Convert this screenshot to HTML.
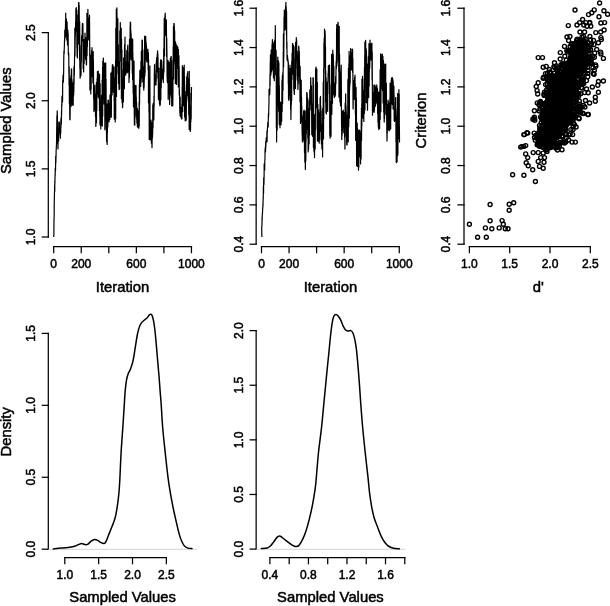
<!DOCTYPE html>
<html><head><meta charset="utf-8"><title>MCMC samples</title>
<style>
html,body{margin:0;padding:0;background:#fff;}
svg{display:block;}
text{font-family:"Liberation Sans", Arial, Helvetica, sans-serif;fill:#000;stroke:#000;stroke-width:0.5px;}
.tk{font-size:12px;}
.tt{font-size:14.8px;}
</style></head><body>
<svg width="610" height="606" viewBox="0 0 610 606">
<rect width="610" height="606" fill="#fff"/>
<g stroke="#000" stroke-width="1.25" fill="none" stroke-linecap="square">
<path d="M53.70 246.60H191.45"/>
<path d="M53.70 246.60v6.0"/>
<path d="M81.25 246.60v6.0"/>
<path d="M108.80 246.60v6.0"/>
<path d="M136.35 246.60v6.0"/>
<path d="M163.90 246.60v6.0"/>
<path d="M191.45 246.60v6.0"/>
</g>
<text x="53.70" y="267.80" text-anchor="middle" class="tk">0</text>
<text x="81.25" y="267.80" text-anchor="middle" class="tk">200</text>
<text x="136.35" y="267.80" text-anchor="middle" class="tk">600</text>
<text x="191.45" y="267.80" text-anchor="middle" class="tk">1000</text>
<g stroke="#000" stroke-width="1.25" fill="none" stroke-linecap="square">
<path d="M48.30 237.00V32.61"/>
<path d="M48.30 237.00h-6.0"/>
<path d="M48.30 168.87h-6.0"/>
<path d="M48.30 100.74h-6.0"/>
<path d="M48.30 32.61h-6.0"/>
</g>
<text transform="translate(34.70 237.00) rotate(-90)" text-anchor="middle" class="tk">1.0</text>
<text transform="translate(34.70 168.87) rotate(-90)" text-anchor="middle" class="tk">1.5</text>
<text transform="translate(34.70 100.74) rotate(-90)" text-anchor="middle" class="tk">2.0</text>
<text transform="translate(34.70 32.61) rotate(-90)" text-anchor="middle" class="tk">2.5</text>
<text x="122.60" y="291.60" text-anchor="middle" class="tt">Iteration</text>
<text transform="translate(10.70 120.70) rotate(-90)" text-anchor="middle" class="tt">Sampled Values</text>
<path d="M53.70 237.00 53.78 235.87 53.85 234.89 53.92 229.70 54.00 220.00 54.08 217.48 54.16 217.47 54.24 202.71 54.32 200.56 54.40 196.00 54.49 191.32 54.57 191.58 54.66 184.66 54.74 191.45 54.83 180.81 54.91 183.44 55.00 178.00 55.09 174.11 55.17 175.48 55.26 168.12 55.34 168.93 55.43 168.17 55.51 171.07 55.60 165.00 55.69 156.15 55.77 157.81 55.86 162.64 55.95 157.98 56.04 157.76 56.12 151.12 56.21 149.22 56.30 148.00 56.38 145.52 56.47 144.64 56.55 141.97 56.63 134.73 56.72 126.70 56.80 125.00 56.88 115.82 56.96 119.37 57.04 122.33 57.12 122.24 57.20 110.80 57.28 112.84 57.36 114.93 57.44 126.30 57.52 127.48 57.60 130.00 57.68 143.81 57.76 136.81 57.84 135.38 57.92 145.63 58.00 149.00 58.08 140.92 58.16 142.08 58.24 139.72 58.32 129.67 58.40 135.96 58.48 128.99 58.56 135.19 58.64 141.10 58.72 134.53 58.80 122.00 58.88 124.68 58.96 123.11 59.04 122.08 59.12 122.23 59.20 123.88 59.28 122.21 59.36 123.25 59.44 123.45 59.52 126.92 59.60 128.00 59.68 131.76 59.76 128.97 59.84 132.64 59.92 132.26 60.00 133.00 60.08 132.18 60.16 135.29 60.24 133.24 60.32 134.80 60.40 138.20 60.49 128.94 60.57 132.49 60.66 132.00 60.74 133.34 60.83 119.88 60.91 128.13 61.00 118.00 61.08 119.00 61.16 119.97 61.24 121.58 61.32 121.64 61.40 124.00 61.49 111.48 61.57 115.30 61.66 110.39 61.74 103.99 61.83 106.13 61.91 99.72 62.00 96.00 62.08 100.08 62.17 99.98 62.25 97.29 62.33 101.24 62.42 97.01 62.50 102.00 62.58 98.91 62.67 85.07 62.75 80.29 62.83 83.03 62.92 81.93 63.00 75.00 63.08 75.04 63.16 80.43 63.24 78.60 63.32 81.03 63.40 82.00 63.48 78.21 63.56 74.75 63.64 73.32 63.72 62.88 63.80 58.00 63.89 52.91 63.97 50.73 64.06 52.42 64.14 53.61 64.23 50.08 64.31 46.95 64.40 46.00 64.48 41.84 64.56 39.04 64.64 41.00 64.72 36.66 64.80 30.00 64.88 31.21 64.96 34.64 65.04 32.79 65.12 36.14 65.20 38.00 65.28 33.54 65.37 27.62 65.45 31.04 65.53 20.98 65.62 22.87 65.70 13.20 65.78 33.59 65.86 25.20 65.94 18.74 66.02 31.89 66.10 36.00 66.17 35.38 66.25 35.31 66.33 28.42 66.40 19.00 66.48 21.68 66.56 27.35 66.64 23.57 66.72 27.93 66.80 40.00 66.88 34.72 66.95 27.99 67.02 29.43 67.10 22.00 67.18 28.98 67.26 30.24 67.34 34.22 67.42 41.39 67.50 45.00 67.58 38.58 67.66 32.30 67.74 44.75 67.82 33.20 67.90 30.00 67.98 37.42 68.06 33.12 68.14 32.83 68.22 42.07 68.30 52.00 68.38 55.01 68.47 53.31 68.55 52.36 68.63 53.17 68.72 52.97 68.80 60.00 68.88 73.51 68.97 68.38 69.05 84.93 69.13 81.76 69.22 66.93 69.30 89.70 69.38 103.72 69.47 98.37 69.55 89.20 69.63 80.82 69.72 112.31 69.80 119.60 69.88 104.63 69.96 111.38 70.05 119.80 70.13 114.78 70.21 105.56 70.29 89.48 70.37 103.84 70.45 78.61 70.54 95.09 70.62 99.54 70.70 103.96 70.78 86.78 70.86 75.69 70.95 93.29 71.03 81.42 71.11 106.29 71.19 88.78 71.27 74.85 71.35 69.31 71.44 83.96 71.52 74.81 71.60 68.80 71.68 76.94 71.77 84.48 71.85 83.63 71.94 79.50 72.02 88.61 72.11 88.74 72.19 99.32 72.27 81.79 72.36 105.18 72.44 88.22 72.53 105.24 72.61 87.46 72.69 86.63 72.78 101.08 72.86 94.95 72.95 91.63 73.03 94.84 73.12 98.81 73.20 105.20 73.28 95.69 73.36 83.41 73.44 96.78 73.53 85.96 73.61 89.31 73.69 94.84 73.77 79.38 73.85 91.72 73.93 69.04 74.01 66.66 74.09 83.89 74.17 70.47 74.26 66.07 74.34 74.90 74.42 68.17 74.50 60.00 74.58 56.59 74.67 53.43 74.75 49.20 74.83 28.20 74.92 55.98 75.00 52.23 75.08 43.96 75.17 38.68 75.25 32.05 75.33 36.60 75.42 29.80 75.50 28.00 75.58 23.71 75.66 21.48 75.74 23.80 75.82 14.78 75.90 8.54 75.98 26.89 76.06 15.53 76.14 10.41 76.22 8.85 76.30 7.50 76.38 11.24 76.47 22.12 76.55 18.46 76.64 31.69 76.72 27.56 76.81 14.78 76.89 48.08 76.98 25.86 77.06 53.35 77.15 56.64 77.23 48.76 77.32 36.83 77.40 58.00 77.48 34.03 77.57 50.56 77.65 37.62 77.73 41.97 77.82 28.38 77.90 22.33 77.98 24.30 78.07 23.89 78.15 10.27 78.23 20.38 78.32 31.21 78.40 34.35 78.48 44.02 78.57 2.72 78.65 9.84 78.73 17.67 78.82 19.17 78.90 2.30 78.99 23.19 79.07 30.13 79.16 5.29 79.24 14.56 79.33 22.03 79.41 38.03 79.50 41.61 79.59 60.07 79.67 21.84 79.76 36.79 79.84 65.86 79.93 69.08 80.01 64.14 80.10 78.20 80.18 72.86 80.26 70.63 80.35 74.34 80.43 76.16 80.51 67.07 80.59 62.97 80.68 71.17 80.76 69.14 80.84 76.08 80.92 68.88 81.01 74.87 81.09 64.03 81.17 45.64 81.25 62.50 81.34 61.17 81.42 48.64 81.50 45.00 81.58 35.90 81.66 38.75 81.75 37.99 81.83 38.43 81.91 39.99 81.99 40.77 82.08 34.04 82.16 36.84 82.24 28.74 82.32 26.73 82.41 24.12 82.49 23.32 82.57 28.94 82.65 24.34 82.74 24.08 82.82 26.89 82.90 23.60 82.99 33.07 83.08 53.18 83.16 68.87 83.25 51.88 83.34 60.66 83.42 59.00 83.51 48.76 83.60 72.00 83.68 69.26 83.76 62.29 83.85 60.43 83.93 39.57 84.01 46.02 84.09 59.10 84.18 63.29 84.26 42.59 84.34 52.33 84.42 48.31 84.51 42.56 84.59 44.61 84.67 50.57 84.75 50.22 84.84 46.73 84.92 41.03 85.00 33.00 85.08 40.23 85.16 49.09 85.25 55.11 85.33 38.15 85.41 45.00 85.49 57.46 85.58 59.12 85.66 46.42 85.74 37.59 85.82 44.00 85.91 46.68 85.99 50.00 86.07 60.02 86.15 54.27 86.24 60.75 86.32 63.76 86.40 65.00 86.48 64.86 86.57 61.51 86.65 48.53 86.73 44.91 86.82 55.90 86.90 13.28 86.98 31.79 87.07 55.60 87.15 25.14 87.23 37.97 87.32 21.50 87.40 46.84 87.48 31.98 87.57 18.81 87.65 21.23 87.73 16.82 87.82 15.98 87.90 9.40 87.98 24.24 88.06 20.45 88.14 20.57 88.22 30.14 88.30 17.71 88.38 27.49 88.46 20.49 88.54 32.86 88.62 30.00 88.70 40.00 88.78 29.58 88.86 36.41 88.94 33.87 89.02 28.14 89.10 21.25 89.18 35.88 89.26 31.61 89.34 26.60 89.42 24.96 89.50 15.00 89.58 28.40 89.66 37.92 89.74 56.99 89.83 46.90 89.91 89.75 89.99 90.04 90.07 82.57 90.15 64.43 90.23 69.74 90.31 87.36 90.39 55.24 90.47 72.64 90.56 86.79 90.64 72.53 90.72 89.10 90.80 93.90 90.89 72.88 90.97 81.59 91.06 85.73 91.14 89.11 91.23 66.96 91.31 53.80 91.40 75.97 91.49 69.91 91.57 63.35 91.66 50.33 91.74 55.51 91.83 61.88 91.91 60.31 92.00 47.70 92.08 52.18 92.17 57.63 92.25 65.10 92.33 54.72 92.41 68.08 92.50 76.89 92.58 70.18 92.66 72.29 92.74 76.97 92.83 55.33 92.91 82.97 92.99 69.57 93.07 73.01 93.16 70.41 93.24 51.55 93.32 79.58 93.40 60.06 93.49 72.28 93.57 92.73 93.65 97.18 93.73 99.06 93.82 91.79 93.90 111.40 93.98 98.92 94.06 104.04 94.15 103.78 94.23 109.94 94.31 101.95 94.39 92.54 94.47 91.34 94.55 92.39 94.64 88.60 94.72 92.59 94.80 85.00 94.88 90.82 94.97 102.02 95.05 107.60 95.13 99.83 95.22 95.69 95.30 93.66 95.38 94.91 95.47 116.51 95.55 106.45 95.63 100.00 95.72 112.41 95.80 126.50 95.88 125.96 95.97 108.09 96.05 102.82 96.13 109.08 96.22 110.60 96.30 105.27 96.38 82.59 96.47 122.81 96.55 96.10 96.63 101.60 96.72 109.06 96.80 110.82 96.88 86.97 96.97 91.27 97.05 78.73 97.13 93.69 97.22 87.13 97.30 78.63 97.38 76.55 97.47 71.49 97.55 93.00 97.63 87.71 97.72 82.97 97.80 84.08 97.88 82.12 97.97 76.61 98.05 73.35 98.13 74.23 98.22 97.02 98.30 71.00 98.38 76.75 98.47 89.89 98.55 89.35 98.63 91.59 98.72 78.19 98.80 98.05 98.88 76.30 98.97 90.41 99.05 88.90 99.13 91.34 99.22 87.68 99.30 90.92 99.38 94.37 99.47 110.56 99.55 74.12 99.63 85.57 99.72 88.20 99.80 116.45 99.88 91.51 99.97 124.02 100.05 84.99 100.13 83.71 100.22 125.33 100.30 114.73 100.38 111.20 100.47 102.15 100.55 117.15 100.63 122.72 100.72 119.33 100.80 129.00 100.88 125.09 100.97 119.59 101.05 105.04 101.13 117.47 101.22 121.48 101.30 118.16 101.38 104.42 101.47 95.42 101.55 116.35 101.63 97.98 101.72 103.17 101.80 99.19 101.88 101.52 101.97 94.37 102.05 125.23 102.13 80.21 102.22 96.91 102.30 126.12 102.38 112.74 102.47 74.84 102.55 75.11 102.63 67.12 102.72 115.88 102.80 61.22 102.88 71.22 102.97 69.84 103.05 65.85 103.13 73.05 103.22 90.04 103.30 58.30 103.38 58.14 103.47 97.88 103.55 66.44 103.63 78.33 103.71 68.86 103.80 99.81 103.88 69.22 103.96 63.78 104.04 104.06 104.13 88.50 104.21 77.70 104.29 100.06 104.37 76.01 104.46 85.20 104.54 62.98 104.62 85.32 104.70 71.96 104.79 97.67 104.87 129.78 104.95 79.58 105.03 77.44 105.12 90.40 105.20 87.60 105.28 88.62 105.37 78.33 105.45 105.28 105.53 112.04 105.61 114.92 105.70 62.78 105.78 74.35 105.86 120.33 105.94 93.38 106.03 79.18 106.11 89.22 106.19 125.43 106.27 128.65 106.36 128.63 106.44 128.91 106.52 135.53 106.60 141.53 106.69 139.97 106.77 125.96 106.85 124.54 106.93 131.85 107.02 103.98 107.10 144.50 107.18 144.44 107.26 130.08 107.35 126.94 107.43 132.52 107.51 112.23 107.59 108.99 107.67 116.89 107.75 107.54 107.84 126.89 107.92 111.92 108.00 100.00 108.08 101.59 108.17 101.48 108.25 110.78 108.33 115.50 108.42 104.36 108.50 100.42 108.58 104.76 108.67 117.73 108.75 115.81 108.83 111.90 108.92 118.95 109.00 122.00 109.08 121.53 109.17 117.21 109.25 118.22 109.34 107.48 109.42 106.33 109.50 112.10 109.59 115.83 109.67 103.95 109.76 104.45 109.84 119.52 109.92 97.84 110.01 94.93 110.09 117.83 110.18 97.48 110.26 111.85 110.35 94.83 110.43 113.13 110.51 107.95 110.60 112.55 110.68 93.79 110.77 98.13 110.85 73.01 110.93 113.82 111.02 103.01 111.10 91.59 111.19 96.86 111.27 100.22 111.35 117.23 111.44 84.88 111.52 82.17 111.61 86.31 111.69 89.59 111.78 71.73 111.86 92.80 111.94 85.43 112.03 75.45 112.11 94.93 112.20 67.77 112.28 86.70 112.36 64.76 112.45 81.40 112.53 90.29 112.62 77.33 112.70 64.60 112.78 68.79 112.87 65.42 112.95 81.11 113.03 73.76 113.12 77.32 113.20 78.68 113.28 73.08 113.37 92.24 113.45 76.00 113.53 76.40 113.62 89.38 113.70 88.63 113.78 86.60 113.87 77.80 113.95 83.82 114.03 66.89 114.12 100.53 114.20 91.07 114.28 118.16 114.37 119.00 114.45 119.20 114.53 93.10 114.62 77.52 114.70 89.98 114.78 112.94 114.87 98.92 114.95 91.08 115.03 113.90 115.12 111.23 115.20 122.00 115.28 89.84 115.37 101.79 115.45 90.51 115.54 65.85 115.62 60.21 115.71 118.74 115.80 28.26 115.88 81.61 115.97 53.48 116.05 58.12 116.14 27.47 116.22 76.92 116.31 9.08 116.39 31.85 116.48 96.52 116.56 38.38 116.65 64.70 116.73 25.69 116.82 55.39 116.90 7.80 116.98 14.71 117.07 20.41 117.15 31.37 117.24 52.47 117.32 66.10 117.40 47.06 117.49 47.80 117.57 52.77 117.66 66.25 117.74 62.76 117.82 18.61 117.91 56.98 117.99 53.02 118.08 73.73 118.16 69.63 118.24 55.47 118.33 44.68 118.41 78.34 118.50 83.46 118.58 64.12 118.66 72.76 118.75 61.49 118.83 83.05 118.92 64.11 119.00 89.50 119.08 89.63 119.16 80.77 119.24 69.40 119.33 84.97 119.41 74.73 119.49 74.20 119.57 88.78 119.65 78.92 119.73 69.46 119.81 30.90 119.89 44.71 119.97 46.13 120.06 32.49 120.14 44.80 120.22 44.92 120.30 22.70 120.38 52.21 120.47 44.60 120.55 46.01 120.64 38.12 120.72 49.80 120.81 52.43 120.89 49.74 120.98 46.04 121.06 61.26 121.15 41.94 121.23 28.12 121.32 56.53 121.40 98.63 121.48 98.63 121.57 39.30 121.65 74.80 121.74 83.21 121.82 64.37 121.91 49.51 121.99 67.66 122.08 102.82 122.16 71.83 122.25 69.70 122.33 93.51 122.42 90.16 122.50 107.70 122.58 101.39 122.67 107.15 122.75 80.53 122.83 89.87 122.92 91.75 123.00 90.69 123.08 88.01 123.17 79.99 123.25 94.00 123.33 78.58 123.42 101.87 123.50 85.95 123.58 73.33 123.67 57.89 123.75 60.37 123.83 78.93 123.92 83.35 124.00 61.05 124.08 84.52 124.17 75.33 124.25 88.96 124.33 88.62 124.42 86.94 124.50 52.59 124.58 44.55 124.67 52.46 124.75 58.72 124.83 51.54 124.92 46.68 125.00 37.00 125.09 49.51 125.17 53.99 125.26 55.55 125.34 65.06 125.43 69.78 125.51 69.95 125.60 75.00 125.68 75.23 125.77 65.26 125.85 70.21 125.94 68.32 126.02 69.36 126.11 68.70 126.19 63.67 126.28 67.90 126.36 72.83 126.45 62.11 126.53 65.12 126.62 62.48 126.70 66.39 126.78 50.56 126.87 66.89 126.95 65.02 127.04 71.96 127.12 72.81 127.21 62.07 127.29 63.12 127.38 61.86 127.46 58.66 127.55 47.51 127.63 59.19 127.72 54.37 127.80 45.00 127.89 50.41 127.97 56.57 128.06 52.28 128.14 71.86 128.23 66.11 128.31 63.41 128.40 70.33 128.49 62.55 128.57 66.08 128.66 64.76 128.74 66.16 128.83 68.72 128.91 74.32 129.00 82.60 129.08 77.23 129.16 64.98 129.24 77.87 129.32 69.97 129.41 76.73 129.49 39.38 129.57 53.73 129.65 69.77 129.73 53.03 129.81 55.15 129.89 39.34 129.98 41.92 130.06 44.44 130.14 27.70 130.22 25.46 130.30 22.00 130.38 31.90 130.47 38.78 130.55 38.76 130.63 22.38 130.72 45.57 130.80 57.09 130.88 30.77 130.97 59.20 131.05 36.71 131.13 33.75 131.22 53.87 131.30 60.00 131.38 53.54 131.46 58.06 131.55 56.71 131.63 57.41 131.71 53.80 131.79 43.93 131.87 52.28 131.95 38.63 132.04 41.68 132.12 43.53 132.20 38.90 132.28 73.22 132.37 57.14 132.45 53.96 132.54 50.71 132.62 79.65 132.70 39.28 132.79 72.80 132.87 52.83 132.95 67.78 133.04 58.82 133.12 88.32 133.21 93.59 133.29 81.28 133.37 61.77 133.46 106.79 133.54 75.54 133.63 99.94 133.71 74.19 133.79 100.75 133.88 103.44 133.96 93.54 134.05 61.17 134.13 105.04 134.21 91.47 134.30 114.41 134.38 124.80 134.46 113.17 134.55 99.51 134.63 99.60 134.72 85.13 134.80 125.20 134.88 114.57 134.96 112.68 135.05 118.10 135.13 95.52 135.21 95.51 135.29 103.04 135.37 95.96 135.45 95.40 135.54 98.25 135.62 101.98 135.70 85.70 135.78 91.85 135.87 93.05 135.95 96.81 136.04 85.61 136.12 100.58 136.20 101.23 136.29 96.91 136.37 116.02 136.45 101.45 136.54 103.46 136.62 103.83 136.71 119.25 136.79 114.86 136.87 123.00 136.96 115.58 137.04 113.86 137.12 121.34 137.21 123.63 137.29 115.82 137.38 126.87 137.46 108.58 137.54 122.53 137.63 127.12 137.71 127.29 137.79 110.77 137.88 114.14 137.96 119.60 138.05 110.68 138.13 117.57 138.21 114.48 138.30 124.43 138.38 126.80 138.46 121.56 138.55 121.39 138.63 122.35 138.72 128.11 138.80 128.40 138.89 126.35 138.97 120.31 139.06 116.99 139.14 102.09 139.23 125.94 139.31 109.88 139.40 84.78 139.49 105.16 139.57 103.19 139.66 79.39 139.74 93.94 139.83 71.22 139.91 77.38 140.00 70.00 140.09 71.83 140.18 73.13 140.26 77.53 140.35 72.03 140.44 78.00 140.52 83.85 140.61 84.06 140.70 86.30 140.78 79.44 140.86 77.36 140.94 61.58 141.02 70.86 141.11 82.82 141.19 75.69 141.27 76.25 141.35 51.17 141.43 55.91 141.51 78.01 141.59 53.11 141.68 53.77 141.76 56.74 141.84 52.50 141.92 57.32 142.00 40.20 142.08 40.46 142.16 42.83 142.25 40.15 142.33 47.88 142.41 40.35 142.49 57.81 142.57 56.53 142.65 52.84 142.74 81.79 142.82 49.60 142.90 67.44 142.98 63.37 143.06 67.50 143.15 71.48 143.23 78.01 143.31 69.90 143.39 81.50 143.47 87.38 143.55 66.80 143.64 70.82 143.72 86.16 143.80 90.10 143.88 82.78 143.97 83.22 144.05 83.41 144.13 86.93 144.21 80.98 144.30 71.00 144.38 78.45 144.46 75.01 144.54 55.78 144.63 38.48 144.71 36.10 144.79 67.08 144.87 76.00 144.96 64.33 145.04 47.90 145.12 72.68 145.20 50.59 145.29 46.03 145.37 60.25 145.45 58.63 145.53 46.89 145.62 52.96 145.70 36.40 145.78 40.54 145.87 40.87 145.95 53.53 146.04 59.00 146.12 47.85 146.21 42.59 146.29 56.27 146.38 58.51 146.46 45.90 146.55 58.73 146.63 55.45 146.72 54.46 146.80 62.00 146.88 58.87 146.97 57.45 147.05 57.16 147.14 59.31 147.22 60.90 147.31 61.42 147.39 50.99 147.48 54.64 147.56 52.78 147.65 49.69 147.73 51.24 147.82 54.61 147.90 49.00 147.98 56.47 148.07 53.88 148.15 68.84 148.23 70.37 148.32 54.54 148.40 52.91 148.48 102.85 148.57 59.38 148.65 87.42 148.73 89.06 148.82 81.28 148.90 78.68 148.98 112.28 149.07 82.09 149.15 111.77 149.23 139.53 149.32 91.52 149.40 129.37 149.48 130.49 149.57 102.71 149.65 128.11 149.73 108.59 149.82 119.58 149.90 65.85 149.98 109.31 150.07 135.54 150.15 132.50 150.23 131.86 150.32 123.14 150.40 140.00 150.49 137.81 150.57 132.31 150.66 121.59 150.74 131.47 150.83 126.27 150.91 126.04 151.00 120.00 151.08 125.02 151.17 122.06 151.25 137.99 151.33 135.46 151.42 143.15 151.50 141.51 151.58 139.61 151.67 134.33 151.75 142.73 151.83 143.28 151.92 142.56 152.00 147.60 152.09 141.99 152.17 135.54 152.26 138.80 152.34 122.15 152.43 134.72 152.51 137.25 152.60 133.76 152.69 133.99 152.77 104.97 152.86 123.29 152.94 122.20 153.03 127.69 153.11 110.11 153.20 103.30 153.29 104.32 153.37 108.50 153.46 106.03 153.54 108.37 153.63 105.94 153.71 118.91 153.80 120.00 153.89 114.81 153.98 96.40 154.06 107.73 154.15 104.12 154.24 88.36 154.32 73.25 154.41 70.91 154.50 64.60 154.58 73.90 154.67 70.15 154.75 78.94 154.83 80.14 154.92 79.01 155.00 76.02 155.08 79.38 155.17 84.97 155.25 79.23 155.33 83.61 155.42 79.96 155.50 81.87 155.58 79.16 155.67 79.29 155.75 74.83 155.83 79.73 155.92 81.82 156.00 85.00 156.08 75.15 156.17 63.23 156.25 81.03 156.34 62.55 156.42 60.78 156.51 71.59 156.59 67.44 156.67 57.64 156.76 62.59 156.84 66.15 156.93 57.20 157.01 63.31 157.09 64.77 157.18 60.98 157.26 53.93 157.35 54.69 157.43 71.93 157.52 52.12 157.60 50.80 157.68 52.91 157.76 72.07 157.85 54.05 157.93 78.16 158.01 57.82 158.09 73.75 158.18 70.47 158.26 73.00 158.34 87.33 158.42 99.70 158.50 73.26 158.59 67.85 158.67 74.37 158.75 97.11 158.83 84.18 158.91 90.50 159.00 68.09 159.08 85.54 159.16 96.03 159.24 84.47 159.32 98.63 159.41 83.18 159.49 103.99 159.57 98.97 159.65 87.70 159.74 86.03 159.82 101.18 159.90 105.80 159.98 98.18 160.07 103.38 160.15 89.51 160.24 93.96 160.32 104.41 160.41 62.75 160.49 70.59 160.57 74.34 160.66 59.96 160.74 73.07 160.83 99.99 160.91 69.38 160.99 88.45 161.08 67.56 161.16 88.07 161.25 86.86 161.33 67.64 161.42 81.65 161.50 60.00 161.58 67.83 161.66 64.88 161.75 61.26 161.83 63.54 161.91 65.10 161.99 67.69 162.07 74.84 162.15 69.61 162.24 75.59 162.32 78.84 162.40 70.65 162.48 69.00 162.56 73.98 162.65 69.84 162.73 76.70 162.81 70.22 162.89 74.39 162.97 77.66 163.05 78.36 163.14 75.62 163.22 80.28 163.30 82.60 163.38 77.20 163.47 75.22 163.55 75.00 163.63 67.51 163.71 48.96 163.80 64.11 163.88 56.58 163.96 71.95 164.04 37.50 164.13 44.19 164.21 18.33 164.29 43.07 164.37 48.53 164.46 48.04 164.54 55.66 164.62 26.78 164.70 36.77 164.79 22.17 164.87 30.70 164.95 15.62 165.03 30.72 165.12 27.16 165.20 13.20 165.28 16.41 165.36 27.50 165.45 24.98 165.53 20.19 165.61 21.11 165.69 33.72 165.77 35.18 165.85 34.72 165.94 26.64 166.02 24.88 166.10 32.80 166.18 28.51 166.26 30.33 166.35 19.73 166.43 28.99 166.51 37.19 166.59 41.50 166.67 56.44 166.75 38.27 166.84 48.61 166.92 50.68 167.00 60.00 167.08 77.01 167.17 69.09 167.25 81.77 167.34 62.30 167.42 66.54 167.50 82.64 167.59 71.05 167.67 82.43 167.75 67.91 167.84 74.92 167.92 80.61 168.01 60.32 168.09 71.05 168.17 99.31 168.26 76.85 168.34 88.14 168.43 92.96 168.51 80.54 168.59 91.89 168.68 77.81 168.76 82.63 168.85 84.49 168.93 74.29 169.01 82.34 169.10 62.00 169.18 79.28 169.26 71.90 169.35 87.82 169.43 92.67 169.52 98.62 169.60 104.50 169.68 102.90 169.77 95.47 169.85 95.65 169.94 90.78 170.02 79.80 170.11 66.28 170.19 66.34 170.27 77.96 170.36 58.29 170.44 83.94 170.53 74.65 170.61 76.05 170.69 94.60 170.78 74.30 170.86 76.40 170.95 56.70 171.03 65.50 171.12 77.83 171.20 56.50 171.28 65.86 171.37 97.55 171.45 67.19 171.53 86.70 171.62 60.66 171.70 105.80 171.78 102.35 171.87 77.99 171.95 94.65 172.03 89.99 172.12 77.44 172.20 80.99 172.28 94.69 172.37 103.29 172.45 104.37 172.53 105.93 172.62 92.81 172.70 98.54 172.78 105.97 172.87 97.01 172.95 91.77 173.03 59.38 173.12 67.17 173.20 46.59 173.28 78.74 173.37 72.40 173.45 26.30 173.53 78.94 173.62 30.97 173.70 48.75 173.78 48.30 173.87 23.67 173.95 29.96 174.03 58.32 174.12 26.94 174.20 23.60 174.28 49.52 174.36 26.35 174.45 39.92 174.53 36.29 174.61 56.47 174.69 30.75 174.77 61.22 174.86 60.57 174.94 64.46 175.02 48.90 175.10 62.87 175.19 65.96 175.27 78.45 175.35 83.57 175.43 75.36 175.51 41.73 175.60 78.41 175.68 80.34 175.76 72.71 175.84 67.10 175.93 47.47 176.01 57.98 176.09 43.95 176.17 67.20 176.25 75.09 176.34 75.85 176.42 79.43 176.50 84.50 176.59 81.56 176.67 76.30 176.76 67.80 176.84 49.10 176.93 47.90 177.01 56.96 177.10 45.80 177.18 48.35 177.27 66.55 177.35 47.12 177.43 59.65 177.51 47.31 177.60 48.64 177.68 66.15 177.76 51.08 177.84 47.36 177.93 60.37 178.01 68.66 178.09 69.00 178.18 61.01 178.26 78.15 178.34 87.01 178.42 49.27 178.51 57.95 178.59 77.19 178.67 81.56 178.76 60.47 178.84 69.31 178.92 55.61 179.00 77.98 179.09 86.78 179.17 66.79 179.25 95.00 179.33 89.78 179.42 90.48 179.50 95.00 179.58 95.33 179.67 101.36 179.75 109.08 179.83 112.30 179.92 113.12 180.00 103.15 180.08 115.78 180.17 97.11 180.25 108.11 180.33 114.09 180.42 110.73 180.50 115.61 180.58 115.69 180.67 116.56 180.75 113.57 180.83 111.62 180.92 107.64 181.00 110.27 181.08 113.23 181.17 117.88 181.25 110.59 181.33 107.42 181.42 109.58 181.50 119.00 181.58 113.31 181.67 111.97 181.75 115.33 181.84 104.26 181.92 118.80 182.01 107.15 182.09 97.96 182.18 87.35 182.26 103.93 182.34 65.70 182.43 109.78 182.51 102.16 182.60 97.99 182.68 111.73 182.77 94.71 182.85 73.28 182.93 101.93 183.02 92.84 183.10 67.62 183.19 70.45 183.27 83.64 183.36 105.87 183.44 95.63 183.52 85.15 183.61 69.72 183.69 77.06 183.78 85.35 183.86 76.33 183.95 82.97 184.03 71.96 184.12 68.20 184.20 65.20 184.28 69.13 184.37 95.07 184.45 76.28 184.53 82.18 184.62 117.03 184.70 106.44 184.78 96.16 184.87 106.69 184.95 116.45 185.03 105.55 185.12 115.97 185.20 120.90 185.28 116.07 185.37 117.77 185.45 98.64 185.54 97.18 185.62 115.14 185.70 111.71 185.79 109.21 185.87 91.41 185.95 108.67 186.04 112.47 186.12 104.28 186.21 120.16 186.29 116.29 186.37 104.61 186.46 84.35 186.54 97.28 186.63 101.88 186.71 77.04 186.79 98.45 186.88 88.01 186.96 77.59 187.05 75.75 187.13 77.92 187.21 93.12 187.30 83.74 187.38 73.34 187.46 73.25 187.55 79.34 187.63 93.94 187.72 76.19 187.80 71.50 187.88 95.56 187.97 88.10 188.05 80.27 188.13 83.51 188.22 78.33 188.30 88.47 188.38 92.23 188.47 99.05 188.55 100.89 188.63 86.16 188.72 114.74 188.80 113.07 188.88 110.86 188.97 100.10 189.05 95.33 189.13 116.81 189.22 129.42 189.30 71.40 189.38 106.28 189.47 104.37 189.55 83.80 189.63 129.71 189.72 123.15 189.80 108.99 189.88 125.88 189.97 113.56 190.05 109.26 190.13 119.66 190.22 127.15 190.30 131.50 190.39 130.92 190.47 113.27 190.56 129.81 190.64 109.40 190.73 105.83 190.81 122.16 190.90 109.68 190.99 93.05 191.07 105.89 191.16 118.97 191.24 102.38 191.33 100.05 191.41 91.86 191.50 87.00" fill="none" stroke="#000" stroke-width="1.2" stroke-linejoin="round"/>
<g stroke="#000" stroke-width="1.25" fill="none" stroke-linecap="square">
<path d="M261.50 246.60H399.25"/>
<path d="M261.50 246.60v6.0"/>
<path d="M289.05 246.60v6.0"/>
<path d="M316.60 246.60v6.0"/>
<path d="M344.15 246.60v6.0"/>
<path d="M371.70 246.60v6.0"/>
<path d="M399.25 246.60v6.0"/>
</g>
<text x="261.50" y="267.80" text-anchor="middle" class="tk">0</text>
<text x="289.05" y="267.80" text-anchor="middle" class="tk">200</text>
<text x="344.15" y="267.80" text-anchor="middle" class="tk">600</text>
<text x="399.25" y="267.80" text-anchor="middle" class="tk">1000</text>
<g stroke="#000" stroke-width="1.25" fill="none" stroke-linecap="square">
<path d="M256.15 244.20V8.22"/>
<path d="M256.15 244.20h-6.0"/>
<path d="M256.15 204.87h-6.0"/>
<path d="M256.15 165.54h-6.0"/>
<path d="M256.15 126.21h-6.0"/>
<path d="M256.15 86.88h-6.0"/>
<path d="M256.15 47.55h-6.0"/>
<path d="M256.15 8.22h-6.0"/>
</g>
<text transform="translate(242.55 244.20) rotate(-90)" text-anchor="middle" class="tk">0.4</text>
<text transform="translate(242.55 204.87) rotate(-90)" text-anchor="middle" class="tk">0.6</text>
<text transform="translate(242.55 165.54) rotate(-90)" text-anchor="middle" class="tk">0.8</text>
<text transform="translate(242.55 126.21) rotate(-90)" text-anchor="middle" class="tk">1.0</text>
<text transform="translate(242.55 86.88) rotate(-90)" text-anchor="middle" class="tk">1.2</text>
<text transform="translate(242.55 47.55) rotate(-90)" text-anchor="middle" class="tk">1.4</text>
<text transform="translate(242.55 8.22) rotate(-90)" text-anchor="middle" class="tk">1.6</text>
<text x="330.45" y="291.60" text-anchor="middle" class="tt">Iteration</text>
<path d="M261.90 237.10 261.80 233.04 261.70 229.00 261.77 226.69 261.85 227.32 261.93 224.79 262.00 224.00 262.07 217.64 262.15 220.11 262.23 217.11 262.30 216.00 262.20 219.00 262.28 215.56 262.36 213.32 262.44 213.25 262.52 213.28 262.60 210.00 262.68 208.14 262.76 207.52 262.84 207.44 262.92 205.52 263.00 203.00 263.00 206.00 263.07 201.97 263.15 197.55 263.23 198.42 263.30 196.00 263.38 186.02 263.46 191.03 263.54 193.57 263.62 185.23 263.70 177.50 263.78 181.01 263.86 183.09 263.94 184.46 264.02 181.24 264.10 177.00 264.19 163.76 264.28 164.97 264.36 168.80 264.45 166.74 264.54 168.10 264.62 169.90 264.71 170.04 264.80 160.00 264.88 160.05 264.97 159.46 265.05 149.41 265.13 150.68 265.22 150.41 265.30 147.00 265.40 148.59 265.50 152.00 265.59 150.52 265.68 142.74 265.76 141.45 265.85 146.61 265.94 143.16 266.02 141.72 266.11 141.81 266.20 138.00 266.27 142.05 266.35 140.16 266.43 141.46 266.50 142.00 266.58 140.51 266.66 137.00 266.75 137.46 266.83 137.56 266.91 131.79 266.99 130.80 267.07 141.62 267.15 133.33 267.24 131.23 267.32 132.25 267.40 128.00 267.48 127.87 267.57 126.66 267.65 126.63 267.73 124.51 267.82 123.92 267.90 122.00 267.97 122.95 268.05 125.28 268.12 125.04 268.20 127.00 268.29 120.70 268.37 117.19 268.46 113.25 268.54 116.65 268.63 115.67 268.71 113.81 268.80 108.00 268.88 104.79 268.96 104.98 269.04 89.27 269.12 94.92 269.20 89.50 269.27 91.12 269.35 90.97 269.43 90.19 269.50 95.00 269.59 88.97 269.68 94.54 269.76 93.25 269.85 90.82 269.94 74.86 270.02 83.16 270.11 85.57 270.20 70.00 270.27 62.18 270.35 66.13 270.43 54.79 270.50 55.00 270.58 56.90 270.66 60.09 270.74 61.23 270.82 70.62 270.90 75.00 270.97 64.67 271.05 70.78 271.12 54.64 271.20 50.00 271.28 52.50 271.36 57.93 271.44 57.56 271.52 61.89 271.60 72.00 271.68 59.14 271.76 53.20 271.84 61.24 271.92 50.02 272.00 48.00 272.08 43.91 272.16 45.04 272.24 47.58 272.32 46.38 272.40 39.50 272.48 55.77 272.56 68.55 272.64 44.98 272.72 55.01 272.80 70.00 272.88 60.73 272.95 53.02 273.03 56.90 273.10 45.00 273.18 51.83 273.26 46.36 273.34 54.54 273.42 72.73 273.50 78.00 273.58 59.46 273.66 52.72 273.74 59.87 273.82 43.56 273.90 42.00 273.98 44.86 274.06 55.84 274.14 68.35 274.22 71.88 274.30 80.70 274.38 68.97 274.46 63.65 274.54 51.08 274.62 58.60 274.70 40.00 274.77 41.58 274.85 52.57 274.93 50.00 275.00 65.00 275.07 63.75 275.15 43.11 275.23 44.01 275.30 25.70 275.38 43.40 275.46 51.67 275.54 49.15 275.62 70.08 275.70 75.00 275.77 74.10 275.85 67.27 275.93 53.52 276.00 50.00 276.09 51.46 276.17 55.17 276.26 67.51 276.34 127.86 276.43 126.57 276.51 120.06 276.60 142.00 276.69 121.35 276.77 123.40 276.86 113.05 276.94 120.75 277.03 113.79 277.11 113.43 277.20 130.10 277.29 100.36 277.37 100.98 277.46 73.96 277.54 71.32 277.63 59.99 277.71 76.49 277.80 57.10 277.88 63.95 277.97 64.88 278.05 65.49 278.14 80.79 278.22 96.22 278.31 105.67 278.39 74.91 278.48 70.02 278.56 61.11 278.65 111.32 278.73 98.42 278.82 91.24 278.90 62.98 278.98 92.57 279.07 77.45 279.15 99.31 279.24 124.61 279.32 85.47 279.41 94.12 279.49 105.45 279.58 103.32 279.66 115.24 279.75 106.92 279.83 123.58 279.92 124.33 280.00 127.80 280.08 103.95 280.17 114.71 280.25 125.03 280.34 113.28 280.42 120.69 280.50 102.11 280.59 103.85 280.67 107.11 280.75 102.90 280.84 122.62 280.92 105.87 281.01 113.95 281.09 124.67 281.17 115.31 281.26 109.18 281.34 102.82 281.42 106.37 281.51 115.76 281.59 105.80 281.68 121.12 281.76 103.42 281.84 101.91 281.93 83.57 282.01 80.47 282.09 79.73 282.18 111.44 282.26 89.71 282.35 75.55 282.43 76.08 282.51 90.67 282.60 103.58 282.68 85.49 282.76 72.74 282.85 83.09 282.93 75.91 283.02 90.14 283.10 72.50 283.19 69.27 283.27 51.90 283.36 54.07 283.44 33.54 283.53 36.86 283.61 66.67 283.70 50.88 283.79 57.14 283.87 45.85 283.96 32.44 284.04 17.33 284.13 26.91 284.21 24.47 284.30 10.00 284.39 15.29 284.48 13.84 284.56 13.36 284.65 11.43 284.74 25.85 284.82 28.21 284.91 17.55 285.00 30.00 285.08 16.53 285.16 29.63 285.25 20.88 285.33 13.72 285.41 20.78 285.49 12.02 285.57 5.93 285.65 5.62 285.74 6.71 285.82 11.62 285.90 2.30 285.98 27.93 286.07 15.39 286.15 15.95 286.24 7.22 286.32 10.42 286.41 11.96 286.49 35.17 286.58 11.42 286.66 30.04 286.75 48.38 286.83 48.77 286.92 42.06 287.00 55.00 287.08 60.11 287.17 59.59 287.25 56.29 287.34 56.98 287.42 55.32 287.51 58.73 287.59 56.58 287.68 60.25 287.76 61.11 287.85 59.08 287.93 59.72 288.02 61.03 288.10 60.90 288.19 64.72 288.27 83.73 288.36 62.46 288.44 83.00 288.53 98.73 288.61 91.89 288.70 100.20 288.78 90.78 288.86 98.77 288.94 90.60 289.02 95.56 289.11 94.62 289.19 73.99 289.27 77.40 289.35 76.18 289.43 72.25 289.51 78.11 289.59 81.05 289.68 68.12 289.76 79.35 289.84 77.42 289.92 77.34 290.00 65.00 290.08 77.09 290.16 68.96 290.25 99.95 290.33 90.42 290.41 72.90 290.49 86.22 290.57 105.20 290.65 109.53 290.74 103.39 290.82 104.28 290.90 119.60 290.98 114.04 291.07 109.86 291.15 98.69 291.24 68.20 291.32 104.43 291.41 71.82 291.49 74.49 291.57 81.28 291.66 100.80 291.74 61.13 291.83 73.44 291.91 77.64 291.99 79.49 292.08 53.01 292.16 60.95 292.25 73.81 292.33 62.81 292.42 66.74 292.50 43.30 292.58 62.47 292.67 54.80 292.75 53.25 292.83 48.44 292.91 43.97 293.00 68.14 293.08 47.43 293.16 50.91 293.24 69.09 293.33 74.38 293.41 62.73 293.49 48.86 293.57 45.69 293.66 51.86 293.74 88.48 293.82 74.73 293.90 90.65 293.99 71.84 294.07 87.48 294.15 71.41 294.23 93.71 294.32 90.28 294.40 94.50 294.48 90.27 294.57 73.98 294.65 76.64 294.73 76.86 294.81 82.32 294.90 87.10 294.98 58.93 295.06 69.68 295.14 47.48 295.23 46.64 295.31 54.54 295.39 85.78 295.47 88.47 295.56 73.44 295.64 42.47 295.72 49.38 295.80 59.94 295.89 53.56 295.97 49.85 296.05 44.49 296.13 47.26 296.22 50.49 296.30 37.60 296.38 56.43 296.47 48.77 296.55 52.61 296.64 39.82 296.72 55.29 296.81 52.10 296.89 62.91 296.97 68.71 297.06 64.38 297.14 75.74 297.23 50.92 297.31 80.12 297.39 64.00 297.48 75.17 297.56 56.12 297.65 66.40 297.73 73.19 297.82 81.17 297.90 89.50 297.98 85.90 298.06 81.66 298.15 74.77 298.23 84.30 298.31 80.53 298.39 67.82 298.47 56.61 298.55 52.76 298.64 57.07 298.72 46.15 298.80 46.40 298.89 55.45 298.97 47.26 299.06 59.68 299.14 59.46 299.23 55.34 299.31 51.27 299.40 60.00 299.48 62.31 299.57 76.62 299.65 73.54 299.74 83.38 299.82 73.03 299.90 75.19 299.99 101.73 300.07 100.85 300.15 66.47 300.24 79.62 300.32 91.76 300.41 92.28 300.49 123.46 300.57 79.14 300.66 107.10 300.74 96.57 300.83 92.60 300.91 110.12 300.99 121.66 301.08 112.25 301.16 113.31 301.25 80.53 301.33 101.42 301.41 104.73 301.50 96.87 301.58 104.38 301.66 108.48 301.75 105.97 301.83 120.84 301.92 117.07 302.00 125.00 302.08 130.31 302.17 135.23 302.25 131.59 302.33 141.22 302.42 136.25 302.50 142.00 302.58 133.39 302.67 126.78 302.75 127.81 302.83 138.79 302.92 140.22 303.00 137.69 303.08 118.47 303.17 115.35 303.25 135.15 303.33 137.35 303.42 124.26 303.50 114.32 303.58 111.40 303.67 111.35 303.75 122.76 303.83 125.29 303.92 111.98 304.00 110.00 304.08 118.58 304.16 142.29 304.25 112.31 304.33 124.66 304.41 127.96 304.49 152.43 304.58 115.35 304.66 143.52 304.74 129.88 304.82 161.96 304.91 121.59 304.99 157.55 305.07 111.04 305.15 136.67 305.24 148.35 305.32 169.36 305.40 169.60 305.48 160.61 305.57 135.51 305.65 133.11 305.73 157.63 305.82 160.76 305.90 141.00 305.98 134.95 306.07 141.08 306.15 124.55 306.23 120.60 306.32 133.42 306.40 129.16 306.48 107.22 306.57 124.00 306.65 106.01 306.73 92.56 306.82 94.89 306.90 92.60 306.98 104.33 307.06 93.23 307.14 94.94 307.22 105.53 307.31 115.17 307.39 102.18 307.47 129.58 307.55 124.29 307.63 97.74 307.71 99.05 307.79 137.79 307.88 125.74 307.96 127.69 308.04 114.01 308.12 148.62 308.20 152.00 308.28 141.20 308.37 133.79 308.45 142.55 308.53 149.68 308.62 140.35 308.70 124.97 308.78 110.16 308.87 108.25 308.95 120.88 309.03 131.75 309.12 144.01 309.20 100.39 309.28 119.32 309.37 129.75 309.45 134.92 309.53 120.01 309.62 111.14 309.70 110.07 309.78 90.47 309.87 89.73 309.95 109.92 310.03 104.00 310.12 109.76 310.20 90.84 310.28 105.20 310.37 101.16 310.45 103.99 310.53 100.01 310.62 87.48 310.70 77.60 310.78 81.24 310.87 84.03 310.95 92.86 311.03 96.16 311.11 88.58 311.20 97.25 311.28 92.09 311.36 93.17 311.44 85.76 311.53 99.71 311.61 107.25 311.69 121.09 311.77 134.54 311.86 116.98 311.94 131.22 312.02 104.20 312.10 118.22 312.19 130.52 312.27 113.59 312.35 135.47 312.43 134.23 312.52 133.26 312.60 136.30 312.68 129.79 312.76 108.11 312.84 124.97 312.92 97.81 313.00 77.60 313.08 78.84 313.17 81.75 313.25 129.45 313.33 78.15 313.42 147.31 313.50 124.58 313.58 125.93 313.67 123.61 313.75 115.36 313.83 129.74 313.92 151.35 314.00 138.45 314.08 128.08 314.17 146.06 314.25 149.60 314.33 153.19 314.42 147.54 314.50 157.60 314.58 151.08 314.67 140.33 314.75 114.37 314.83 132.62 314.92 114.51 315.00 142.50 315.08 128.82 315.17 149.03 315.25 112.89 315.33 130.80 315.42 83.91 315.50 107.35 315.58 69.51 315.67 79.75 315.75 78.58 315.83 67.82 315.92 70.22 316.00 67.10 316.08 72.86 316.17 75.39 316.25 107.67 316.34 87.69 316.42 94.71 316.51 83.11 316.59 76.09 316.67 81.05 316.76 83.81 316.84 69.09 316.93 97.40 317.01 85.14 317.09 108.75 317.18 128.27 317.26 129.36 317.35 82.30 317.43 140.94 317.52 122.79 317.60 117.55 317.68 132.82 317.77 131.27 317.85 104.25 317.94 119.64 318.02 111.92 318.11 115.73 318.19 141.36 318.27 117.02 318.36 115.87 318.44 109.96 318.53 118.68 318.61 131.93 318.69 112.41 318.78 125.12 318.86 124.75 318.95 126.10 319.03 133.85 319.12 136.42 319.20 143.20 319.28 122.83 319.36 120.12 319.44 125.88 319.52 137.65 319.61 140.02 319.69 139.67 319.77 123.88 319.85 118.46 319.93 108.92 320.01 127.98 320.09 97.94 320.18 131.45 320.26 120.91 320.34 118.28 320.42 101.52 320.50 96.40 320.58 124.03 320.67 113.26 320.75 106.06 320.84 118.82 320.92 129.54 321.00 111.12 321.09 121.28 321.17 110.74 321.26 128.66 321.34 137.46 321.42 144.02 321.51 124.16 321.59 137.03 321.68 130.62 321.76 133.42 321.84 139.99 321.93 148.98 322.01 135.47 322.10 144.29 322.18 137.90 322.26 141.60 322.35 137.93 322.43 148.41 322.52 131.58 322.60 157.00 322.68 108.42 322.77 138.66 322.85 115.06 322.93 126.71 323.01 136.42 323.10 126.72 323.18 108.68 323.26 82.69 323.34 81.83 323.43 120.87 323.51 138.90 323.59 116.53 323.67 68.14 323.76 104.68 323.84 118.67 323.92 42.92 324.00 45.61 324.09 66.55 324.17 38.37 324.25 54.91 324.33 51.35 324.42 67.24 324.50 29.10 324.58 35.98 324.67 37.60 324.75 39.54 324.83 53.15 324.91 60.79 325.00 48.75 325.08 30.81 325.16 47.53 325.24 34.72 325.33 63.71 325.41 73.40 325.49 46.69 325.57 101.79 325.66 83.35 325.74 70.80 325.82 102.04 325.90 112.72 325.99 92.30 326.07 95.86 326.15 77.69 326.23 88.78 326.32 111.25 326.40 114.00 326.48 105.25 326.57 109.90 326.65 102.18 326.74 106.70 326.82 97.72 326.91 90.56 326.99 89.70 327.07 82.77 327.16 82.76 327.24 93.07 327.33 95.67 327.41 86.93 327.49 94.90 327.58 93.62 327.66 111.33 327.75 89.54 327.83 81.06 327.92 82.40 328.00 80.00 328.08 75.58 328.16 72.88 328.24 76.28 328.32 71.99 328.41 65.61 328.49 68.92 328.57 69.54 328.65 69.85 328.73 68.07 328.81 73.84 328.89 70.71 328.98 66.53 329.06 68.06 329.14 66.35 329.22 65.56 329.30 65.20 329.38 93.87 329.46 76.39 329.54 65.10 329.62 78.27 329.70 110.49 329.78 135.28 329.86 123.76 329.94 116.05 330.02 124.55 330.10 138.20 330.18 127.36 330.27 124.64 330.35 123.99 330.44 101.86 330.52 131.22 330.61 106.30 330.69 113.09 330.78 132.41 330.86 102.19 330.94 115.78 331.03 136.37 331.11 91.27 331.20 84.79 331.28 105.47 331.37 83.44 331.45 106.68 331.53 78.67 331.62 54.36 331.70 69.49 331.79 114.44 331.87 109.08 331.96 81.38 332.04 96.51 332.12 89.60 332.21 60.31 332.29 70.15 332.38 101.21 332.46 103.39 332.55 53.60 332.63 63.17 332.72 71.44 332.80 50.20 332.88 53.39 332.97 69.50 333.05 56.88 333.13 61.58 333.22 72.13 333.30 54.57 333.38 68.41 333.47 60.30 333.55 92.26 333.63 94.82 333.72 85.13 333.80 68.82 333.88 66.18 333.97 92.32 334.05 81.50 334.13 91.12 334.22 83.62 334.30 97.60 334.38 90.34 334.47 91.98 334.56 91.24 334.64 84.31 334.73 86.11 334.81 89.61 334.89 94.06 334.98 96.44 335.06 95.81 335.15 85.30 335.24 88.86 335.32 87.08 335.41 83.11 335.49 94.98 335.57 83.14 335.66 76.46 335.75 78.47 335.83 77.76 335.92 83.68 336.00 70.00 336.08 64.56 336.17 63.40 336.25 60.97 336.33 68.71 336.42 55.25 336.50 60.22 336.58 28.89 336.67 41.25 336.75 24.67 336.83 66.10 336.92 40.73 337.00 34.87 337.08 43.34 337.17 25.73 337.25 62.71 337.33 46.09 337.42 27.45 337.50 35.72 337.58 41.09 337.67 40.59 337.75 33.60 337.83 31.14 337.92 42.85 338.00 22.30 338.08 25.54 338.17 22.60 338.25 45.04 338.33 32.62 338.42 39.18 338.50 40.08 338.58 61.10 338.67 36.43 338.75 71.96 338.83 37.82 338.92 64.24 339.00 97.19 339.08 58.23 339.17 52.84 339.25 26.39 339.33 81.65 339.42 64.65 339.50 97.54 339.58 54.08 339.67 87.47 339.75 68.16 339.83 99.45 339.92 102.02 340.00 72.33 340.08 81.66 340.17 78.23 340.25 76.41 340.33 85.55 340.42 94.19 340.50 105.80 340.59 88.85 340.68 102.12 340.76 80.70 340.85 96.24 340.94 78.15 341.02 71.29 341.11 74.04 341.20 65.20 341.29 76.76 341.37 89.22 341.46 110.43 341.54 123.96 341.63 126.20 341.71 133.01 341.80 139.40 341.88 135.53 341.97 132.27 342.05 134.10 342.13 135.21 342.22 128.20 342.30 119.13 342.38 111.39 342.47 131.09 342.55 118.75 342.63 124.69 342.72 116.00 342.80 120.23 342.88 117.24 342.97 111.28 343.05 117.55 343.13 111.39 343.22 112.62 343.30 110.00 343.38 124.99 343.47 113.25 343.55 111.86 343.64 127.75 343.72 112.73 343.81 132.87 343.89 127.65 343.97 115.66 344.06 129.21 344.14 126.76 344.23 122.27 344.31 125.35 344.39 112.73 344.48 117.22 344.56 114.67 344.65 137.65 344.73 128.09 344.82 135.79 344.90 149.10 344.99 147.86 345.07 127.95 345.16 102.99 345.25 115.99 345.34 114.93 345.43 105.56 345.51 110.16 345.60 93.90 345.68 94.24 345.77 102.56 345.85 108.29 345.93 127.67 346.02 105.66 346.10 110.49 346.18 126.22 346.27 111.38 346.35 136.13 346.43 135.43 346.52 125.74 346.60 135.99 346.68 142.54 346.77 144.60 346.85 138.02 346.93 140.26 347.02 135.27 347.10 145.10 347.18 126.49 347.27 132.16 347.35 125.52 347.43 115.35 347.52 132.64 347.60 131.87 347.68 114.11 347.77 111.85 347.85 79.53 347.93 118.44 348.02 140.76 348.10 109.91 348.18 88.89 348.27 141.80 348.35 116.61 348.43 68.01 348.52 78.58 348.60 74.38 348.68 90.16 348.77 126.57 348.85 63.57 348.93 84.96 349.02 89.95 349.10 51.41 349.18 70.63 349.27 100.84 349.35 118.18 349.43 94.20 349.52 81.86 349.60 89.60 349.68 74.56 349.77 61.16 349.85 86.01 349.93 67.96 350.02 60.24 350.10 55.49 350.18 82.96 350.27 69.40 350.35 62.73 350.43 64.45 350.52 65.31 350.60 48.70 350.68 57.80 350.76 55.66 350.85 53.74 350.93 54.72 351.01 48.95 351.09 55.46 351.17 55.43 351.25 60.94 351.34 64.69 351.42 60.29 351.50 70.00 351.58 63.28 351.67 69.83 351.75 63.38 351.83 58.79 351.92 57.52 352.00 61.38 352.08 65.43 352.17 53.03 352.25 52.44 352.33 58.68 352.42 57.37 352.50 49.20 352.59 51.05 352.67 72.42 352.76 60.21 352.84 58.42 352.93 80.06 353.01 102.36 353.10 108.90 353.18 103.08 353.27 94.98 353.35 95.59 353.43 89.91 353.51 97.67 353.60 90.30 353.68 99.20 353.76 86.55 353.84 91.72 353.93 80.38 354.01 80.24 354.09 90.94 354.17 99.30 354.26 88.81 354.34 84.89 354.42 90.08 354.50 88.31 354.59 77.27 354.67 84.15 354.75 80.44 354.83 78.05 354.92 81.86 355.00 75.00 355.08 89.77 355.17 90.44 355.25 83.92 355.33 98.45 355.42 114.27 355.50 101.35 355.58 102.46 355.67 140.45 355.75 94.26 355.83 94.05 355.92 91.44 356.00 134.95 356.08 87.46 356.17 110.19 356.25 131.15 356.33 135.72 356.42 98.12 356.50 132.77 356.58 159.78 356.67 165.63 356.75 148.59 356.83 140.90 356.92 136.02 357.00 134.25 357.08 147.03 357.17 133.14 357.25 123.19 357.33 166.51 357.42 128.10 357.50 153.61 357.58 160.00 357.67 157.41 357.75 129.12 357.83 146.50 357.92 153.92 358.00 151.23 358.08 150.93 358.17 144.05 358.25 147.05 358.33 157.99 358.42 163.88 358.50 170.20 358.58 155.94 358.67 164.37 358.75 162.98 358.83 167.26 358.92 138.21 359.00 130.32 359.08 153.97 359.17 138.11 359.25 130.48 359.33 145.40 359.42 134.94 359.50 130.00 359.58 131.81 359.67 149.57 359.75 156.71 359.84 151.80 359.92 132.98 360.01 134.45 360.09 138.05 360.18 141.82 360.26 153.16 360.35 146.93 360.43 155.41 360.52 153.55 360.60 163.90 360.68 148.95 360.77 151.08 360.85 158.29 360.93 130.60 361.01 159.11 361.10 158.92 361.18 135.47 361.26 120.45 361.34 122.08 361.43 107.98 361.51 140.39 361.59 131.58 361.67 125.15 361.76 103.66 361.84 126.32 361.92 78.99 362.00 104.12 362.09 117.66 362.17 114.99 362.25 96.60 362.33 86.00 362.42 93.60 362.50 76.30 362.58 84.42 362.66 96.30 362.74 78.95 362.82 95.24 362.91 86.03 362.99 118.15 363.07 115.37 363.15 114.87 363.23 116.75 363.31 115.31 363.39 90.63 363.48 100.30 363.56 108.11 363.64 108.39 363.72 109.99 363.80 121.50 363.88 92.49 363.96 103.12 364.05 111.33 364.13 112.88 364.21 103.52 364.29 111.10 364.37 113.43 364.45 67.39 364.54 108.67 364.62 90.35 364.70 55.57 364.78 67.29 364.86 42.00 364.95 109.95 365.03 42.75 365.11 65.04 365.19 43.23 365.27 63.30 365.35 64.35 365.44 55.56 365.52 42.64 365.60 40.40 365.68 42.36 365.77 52.70 365.85 67.02 365.93 50.39 366.01 70.34 366.10 48.39 366.18 72.40 366.26 102.63 366.34 86.95 366.43 50.31 366.51 55.15 366.59 67.52 366.67 65.63 366.76 90.97 366.84 88.26 366.92 96.70 367.00 86.21 367.09 63.83 367.17 98.28 367.25 92.72 367.33 86.95 367.42 98.31 367.50 110.20 367.58 101.72 367.67 100.00 367.75 84.55 367.83 75.38 367.92 82.16 368.00 83.62 368.08 87.95 368.17 78.31 368.25 67.55 368.33 56.48 368.42 77.03 368.50 76.55 368.58 91.96 368.67 97.59 368.75 65.59 368.83 55.43 368.92 50.15 369.00 43.55 369.08 57.63 369.17 85.98 369.25 62.03 369.33 72.30 369.42 54.64 369.50 52.49 369.58 49.39 369.67 45.23 369.75 68.06 369.83 60.63 369.92 44.90 370.00 40.20 370.08 45.76 370.17 49.40 370.25 51.51 370.33 47.30 370.42 47.26 370.50 44.04 370.58 47.23 370.67 47.91 370.75 54.11 370.83 54.92 370.92 59.15 371.00 60.00 371.08 55.85 371.16 52.57 371.25 57.46 371.33 55.61 371.41 55.49 371.49 43.36 371.57 45.47 371.65 48.52 371.74 49.10 371.82 44.35 371.90 43.30 371.99 59.92 372.07 79.66 372.16 68.21 372.24 52.11 372.33 83.69 372.41 101.97 372.50 115.20 372.58 109.77 372.67 109.82 372.75 101.49 372.83 104.50 372.92 110.26 373.00 102.93 373.08 103.63 373.17 96.21 373.25 97.90 373.33 105.01 373.42 111.89 373.50 92.62 373.58 93.30 373.67 92.12 373.75 93.39 373.83 104.07 373.92 85.05 374.00 109.77 374.08 112.05 374.17 102.35 374.25 112.15 374.33 92.56 374.42 98.81 374.50 109.58 374.58 95.70 374.67 87.76 374.75 100.00 374.83 94.87 374.92 90.33 375.00 85.00 375.08 102.50 375.17 87.64 375.25 98.45 375.33 91.27 375.41 106.26 375.50 101.72 375.58 87.75 375.66 102.51 375.74 88.13 375.83 90.97 375.91 87.83 375.99 87.15 376.07 104.01 376.16 89.89 376.24 97.52 376.32 100.17 376.40 97.45 376.49 87.63 376.57 98.09 376.65 94.98 376.73 84.90 376.82 88.69 376.90 99.55 376.98 87.09 377.07 96.24 377.15 98.34 377.23 88.53 377.31 102.85 377.40 91.97 377.48 88.51 377.56 100.89 377.64 113.84 377.73 91.34 377.81 95.82 377.89 95.43 377.97 121.93 378.06 120.51 378.14 103.23 378.22 114.15 378.30 126.44 378.39 115.59 378.47 107.38 378.55 128.12 378.63 127.26 378.72 127.45 378.80 129.60 378.88 92.35 378.97 112.45 379.05 112.34 379.13 98.32 379.22 101.76 379.30 116.81 379.38 125.55 379.47 119.52 379.55 125.44 379.63 128.40 379.72 104.68 379.80 90.36 379.88 101.24 379.97 85.64 380.05 105.08 380.13 69.61 380.22 119.46 380.30 73.02 380.38 92.37 380.47 81.70 380.55 97.48 380.63 53.91 380.72 88.56 380.80 73.68 380.88 111.69 380.97 99.64 381.05 63.83 381.13 77.12 381.22 88.50 381.30 62.32 381.38 73.56 381.47 80.71 381.55 73.69 381.63 73.21 381.72 69.59 381.80 70.70 381.88 54.39 381.97 62.91 382.05 62.30 382.13 57.25 382.22 62.62 382.30 54.20 382.38 67.35 382.47 90.53 382.55 58.69 382.63 69.02 382.71 56.70 382.80 68.47 382.88 56.05 382.96 61.34 383.04 74.96 383.13 102.93 383.21 78.69 383.29 80.07 383.37 78.71 383.46 60.41 383.54 66.73 383.62 93.83 383.70 111.95 383.79 98.66 383.87 86.41 383.95 102.34 384.03 118.17 384.12 114.40 384.20 122.10 384.28 118.31 384.37 116.60 384.45 97.06 384.53 118.44 384.62 111.98 384.70 98.17 384.78 64.13 384.87 114.62 384.95 97.62 385.03 87.20 385.12 91.45 385.20 80.36 385.28 104.37 385.37 65.66 385.45 69.26 385.53 68.43 385.62 69.11 385.70 64.00 385.78 101.65 385.86 95.66 385.94 85.05 386.02 98.99 386.11 104.52 386.19 103.57 386.27 114.38 386.35 83.37 386.43 111.44 386.51 108.45 386.59 106.82 386.68 115.87 386.76 121.73 386.84 133.15 386.92 128.78 387.00 141.10 387.08 138.03 387.17 125.88 387.25 133.29 387.33 128.38 387.42 127.99 387.50 104.42 387.58 129.65 387.67 107.79 387.75 110.53 387.83 117.94 387.92 107.31 388.00 100.00 388.08 102.90 388.17 106.48 388.25 101.20 388.33 122.13 388.42 105.23 388.50 130.11 388.58 108.09 388.67 102.68 388.75 123.98 388.83 119.51 388.92 118.13 389.00 112.28 389.08 123.97 389.17 118.63 389.25 116.34 389.33 117.81 389.42 123.79 389.50 130.70 389.58 124.95 389.67 114.61 389.75 104.20 389.83 121.48 389.92 98.15 390.00 124.15 390.08 82.98 390.17 104.57 390.25 109.39 390.33 108.20 390.42 108.49 390.50 115.26 390.58 97.25 390.67 129.08 390.75 108.65 390.83 95.26 390.92 108.48 391.00 101.58 391.08 97.00 391.17 101.52 391.25 79.84 391.33 100.18 391.42 103.61 391.50 90.15 391.58 78.29 391.67 77.81 391.75 101.37 391.83 83.37 391.92 83.67 392.00 77.60 392.08 93.00 392.17 79.64 392.25 94.56 392.33 104.41 392.42 83.36 392.50 77.95 392.58 94.75 392.67 99.93 392.75 89.05 392.83 94.25 392.92 79.69 393.00 87.05 393.08 108.94 393.17 81.31 393.25 97.53 393.33 101.99 393.42 87.16 393.50 91.63 393.58 90.00 393.67 97.14 393.75 86.50 393.83 89.61 393.92 86.10 394.00 105.90 394.08 94.82 394.17 120.78 394.25 112.53 394.33 113.04 394.42 109.78 394.50 121.50 394.58 113.48 394.66 120.52 394.74 110.70 394.82 118.20 394.91 119.36 394.99 116.32 395.07 109.27 395.15 112.56 395.23 119.15 395.31 120.52 395.39 109.11 395.48 102.30 395.56 108.63 395.64 97.54 395.72 101.36 395.80 97.60 395.89 117.48 395.97 141.38 396.06 109.46 396.14 114.49 396.23 162.28 396.31 153.11 396.40 162.70 396.48 157.13 396.57 128.57 396.65 161.56 396.73 153.38 396.82 154.71 396.90 160.67 396.98 130.17 397.07 161.63 397.15 138.14 397.23 121.39 397.32 116.04 397.40 123.37 397.48 119.71 397.57 109.21 397.65 93.55 397.73 155.57 397.82 125.08 397.90 153.70 397.98 104.29 398.07 104.33 398.15 102.87 398.23 131.61 398.32 125.86 398.40 138.63 398.48 121.12 398.57 103.51 398.65 99.99 398.73 106.23 398.82 96.73 398.90 89.50 398.99 105.05 399.07 96.75 399.16 116.36 399.24 94.09 399.33 132.24 399.41 126.72 399.50 142.60" fill="none" stroke="#000" stroke-width="1.2" stroke-linejoin="round"/>
<g stroke="#000" stroke-width="1.25" fill="none" stroke-linecap="square">
<path d="M469.40 246.60H590.30"/>
<path d="M469.40 246.60v6.0"/>
<path d="M509.70 246.60v6.0"/>
<path d="M550.00 246.60v6.0"/>
<path d="M590.30 246.60v6.0"/>
</g>
<text x="469.40" y="267.80" text-anchor="middle" class="tk">1.0</text>
<text x="509.70" y="267.80" text-anchor="middle" class="tk">1.5</text>
<text x="550.00" y="267.80" text-anchor="middle" class="tk">2.0</text>
<text x="590.30" y="267.80" text-anchor="middle" class="tk">2.5</text>
<g stroke="#000" stroke-width="1.25" fill="none" stroke-linecap="square">
<path d="M464.00 244.20V8.22"/>
<path d="M464.00 244.20h-6.0"/>
<path d="M464.00 204.87h-6.0"/>
<path d="M464.00 165.54h-6.0"/>
<path d="M464.00 126.21h-6.0"/>
<path d="M464.00 86.88h-6.0"/>
<path d="M464.00 47.55h-6.0"/>
<path d="M464.00 8.22h-6.0"/>
</g>
<text transform="translate(450.40 244.20) rotate(-90)" text-anchor="middle" class="tk">0.4</text>
<text transform="translate(450.40 204.87) rotate(-90)" text-anchor="middle" class="tk">0.6</text>
<text transform="translate(450.40 165.54) rotate(-90)" text-anchor="middle" class="tk">0.8</text>
<text transform="translate(450.40 126.21) rotate(-90)" text-anchor="middle" class="tk">1.0</text>
<text transform="translate(450.40 86.88) rotate(-90)" text-anchor="middle" class="tk">1.2</text>
<text transform="translate(450.40 47.55) rotate(-90)" text-anchor="middle" class="tk">1.4</text>
<text transform="translate(450.40 8.22) rotate(-90)" text-anchor="middle" class="tk">1.6</text>
<text x="538.30" y="291.60" text-anchor="middle" class="tt">d'</text>
<text transform="translate(426.40 120.50) rotate(-90)" text-anchor="middle" class="tt">Criterion</text>
<g fill="none" stroke="#000" stroke-width="1.4">
<circle cx="469.4" cy="224.3" r="2"/>
<circle cx="477.6" cy="237.3" r="2"/>
<circle cx="486.3" cy="237.3" r="2"/>
<circle cx="485.4" cy="227.9" r="2"/>
<circle cx="491.8" cy="228.7" r="2"/>
<circle cx="490.1" cy="220.8" r="2"/>
<circle cx="490.1" cy="204.5" r="2"/>
<circle cx="499.2" cy="227.9" r="2"/>
<circle cx="502.1" cy="220.6" r="2"/>
<circle cx="503.3" cy="224.2" r="2"/>
<circle cx="505.3" cy="228.7" r="2"/>
<circle cx="508.0" cy="228.7" r="2"/>
<circle cx="509.2" cy="210.2" r="2"/>
<circle cx="509.2" cy="204.3" r="2"/>
<circle cx="513.7" cy="202.7" r="2"/>
<circle cx="512.6" cy="174.7" r="2"/>
<circle cx="523.9" cy="175.2" r="2"/>
<circle cx="535.4" cy="181.5" r="2"/>
<circle cx="532.7" cy="169.7" r="2"/>
<circle cx="525.7" cy="153.9" r="2"/>
<circle cx="527.7" cy="157.6" r="2"/>
<circle cx="526.2" cy="162.7" r="2"/>
<circle cx="528.2" cy="165.7" r="2"/>
<circle cx="538.2" cy="161.4" r="2"/>
<circle cx="544.0" cy="162.2" r="2"/>
<circle cx="539.5" cy="166.4" r="2"/>
<circle cx="543.2" cy="168.2" r="2"/>
<circle cx="540.7" cy="157.6" r="2"/>
<circle cx="544.5" cy="157.6" r="2"/>
<circle cx="520.7" cy="147.1" r="2"/>
<circle cx="523.7" cy="146.4" r="2"/>
<circle cx="525.7" cy="145.6" r="2"/>
<circle cx="533.2" cy="152.6" r="2"/>
<circle cx="538.2" cy="152.6" r="2"/>
<circle cx="543.2" cy="153.1" r="2"/>
<circle cx="547.0" cy="151.4" r="2"/>
<circle cx="550.7" cy="147.6" r="2"/>
<circle cx="555.7" cy="148.1" r="2"/>
<circle cx="559.5" cy="145.6" r="2"/>
<circle cx="564.5" cy="143.1" r="2"/>
<circle cx="565.8" cy="142.1" r="2"/>
<circle cx="572.0" cy="142.1" r="2"/>
<circle cx="575.3" cy="142.1" r="2"/>
<circle cx="524.4" cy="134.6" r="2"/>
<circle cx="527.7" cy="133.1" r="2"/>
<circle cx="570.8" cy="129.6" r="2"/>
<circle cx="574.5" cy="124.6" r="2"/>
<circle cx="579.0" cy="118.8" r="2"/>
<circle cx="580.8" cy="112.5" r="2"/>
<circle cx="587.8" cy="114.5" r="2"/>
<circle cx="583.3" cy="105.5" r="2"/>
<circle cx="589.6" cy="103.0" r="2"/>
<circle cx="595.3" cy="101.3" r="2"/>
<circle cx="599.6" cy="3.0" r="2"/>
<circle cx="575.0" cy="10.0" r="2"/>
<circle cx="603.9" cy="10.8" r="2"/>
<circle cx="607.6" cy="14.3" r="2"/>
<circle cx="582.6" cy="19.5" r="2"/>
<circle cx="579.6" cy="22.6" r="2"/>
<circle cx="568.3" cy="25.6" r="2"/>
<circle cx="577.0" cy="25.0" r="2"/>
<circle cx="585.8" cy="22.6" r="2"/>
<circle cx="589.6" cy="23.0" r="2"/>
<circle cx="587.0" cy="26.3" r="2"/>
<circle cx="590.8" cy="26.3" r="2"/>
<circle cx="600.9" cy="23.0" r="2"/>
<circle cx="604.6" cy="22.6" r="2"/>
<circle cx="604.1" cy="30.0" r="2"/>
<circle cx="595.8" cy="32.6" r="2"/>
<circle cx="580.0" cy="32.0" r="2"/>
<circle cx="584.6" cy="32.0" r="2"/>
<circle cx="567.0" cy="37.0" r="2"/>
<circle cx="600.9" cy="37.6" r="2"/>
<circle cx="538.2" cy="57.6" r="2"/>
<circle cx="542.5" cy="57.6" r="2"/>
<circle cx="560.3" cy="52.6" r="2"/>
<circle cx="564.5" cy="46.4" r="2"/>
<circle cx="543.2" cy="67.2" r="2"/>
<circle cx="546.2" cy="66.4" r="2"/>
<circle cx="554.5" cy="62.7" r="2"/>
<circle cx="543.2" cy="78.2" r="2"/>
<circle cx="546.2" cy="78.2" r="2"/>
<circle cx="538.2" cy="82.7" r="2"/>
<circle cx="536.2" cy="86.5" r="2"/>
<circle cx="537.7" cy="94.0" r="2"/>
<circle cx="603.4" cy="58.4" r="2"/>
<circle cx="600.9" cy="53.9" r="2"/>
<circle cx="603.4" cy="81.0" r="2"/>
<circle cx="598.4" cy="81.5" r="2"/>
<circle cx="597.8" cy="85.2" r="2"/>
<circle cx="598.4" cy="92.2" r="2"/>
<circle cx="595.3" cy="97.2" r="2"/>
<circle cx="588.3" cy="114.5" r="2"/>
<circle cx="582.6" cy="113.3" r="2"/>
<circle cx="526.9" cy="132.8" r="2"/>
<circle cx="523.9" cy="134.6" r="2"/>
<circle cx="521.9" cy="146.6" r="2"/>
<circle cx="534.4" cy="117.3" r="2"/>
<circle cx="540.0" cy="109.0" r="2"/>
<circle cx="574.1" cy="99.0" r="2"/>
<circle cx="555.8" cy="93.9" r="2"/>
<circle cx="541.2" cy="122.8" r="2"/>
<circle cx="538.5" cy="133.0" r="2"/>
<circle cx="549.7" cy="133.2" r="2"/>
<circle cx="581.0" cy="84.4" r="2"/>
<circle cx="551.1" cy="138.1" r="2"/>
<circle cx="544.2" cy="117.5" r="2"/>
<circle cx="577.8" cy="62.2" r="2"/>
<circle cx="557.8" cy="82.1" r="2"/>
<circle cx="546.6" cy="113.7" r="2"/>
<circle cx="547.8" cy="113.2" r="2"/>
<circle cx="577.6" cy="70.3" r="2"/>
<circle cx="576.7" cy="40.5" r="2"/>
<circle cx="557.5" cy="150.0" r="2"/>
<circle cx="563.9" cy="82.8" r="2"/>
<circle cx="564.2" cy="109.0" r="2"/>
<circle cx="569.7" cy="71.3" r="2"/>
<circle cx="554.9" cy="137.9" r="2"/>
<circle cx="547.4" cy="123.2" r="2"/>
<circle cx="570.9" cy="73.8" r="2"/>
<circle cx="557.5" cy="81.9" r="2"/>
<circle cx="561.1" cy="114.5" r="2"/>
<circle cx="578.9" cy="66.5" r="2"/>
<circle cx="554.9" cy="104.0" r="2"/>
<circle cx="574.5" cy="81.9" r="2"/>
<circle cx="555.9" cy="115.9" r="2"/>
<circle cx="563.5" cy="109.7" r="2"/>
<circle cx="565.9" cy="87.3" r="2"/>
<circle cx="571.1" cy="96.1" r="2"/>
<circle cx="590.7" cy="59.4" r="2"/>
<circle cx="595.6" cy="64.9" r="2"/>
<circle cx="561.7" cy="121.8" r="2"/>
<circle cx="580.2" cy="43.0" r="2"/>
<circle cx="566.8" cy="85.5" r="2"/>
<circle cx="585.2" cy="39.0" r="2"/>
<circle cx="575.2" cy="76.3" r="2"/>
<circle cx="543.9" cy="112.7" r="2"/>
<circle cx="569.9" cy="74.7" r="2"/>
<circle cx="590.5" cy="60.9" r="2"/>
<circle cx="557.8" cy="113.7" r="2"/>
<circle cx="559.0" cy="114.7" r="2"/>
<circle cx="541.6" cy="137.7" r="2"/>
<circle cx="562.5" cy="128.3" r="2"/>
<circle cx="571.1" cy="55.2" r="2"/>
<circle cx="547.9" cy="87.3" r="2"/>
<circle cx="563.2" cy="142.4" r="2"/>
<circle cx="577.2" cy="39.1" r="2"/>
<circle cx="563.5" cy="82.1" r="2"/>
<circle cx="567.3" cy="72.6" r="2"/>
<circle cx="554.7" cy="67.5" r="2"/>
<circle cx="580.9" cy="107.4" r="2"/>
<circle cx="546.8" cy="101.9" r="2"/>
<circle cx="570.0" cy="59.6" r="2"/>
<circle cx="555.0" cy="87.2" r="2"/>
<circle cx="572.7" cy="134.6" r="2"/>
<circle cx="567.1" cy="73.7" r="2"/>
<circle cx="547.4" cy="73.2" r="2"/>
<circle cx="558.1" cy="134.1" r="2"/>
<circle cx="542.4" cy="143.0" r="2"/>
<circle cx="567.9" cy="76.6" r="2"/>
<circle cx="564.1" cy="84.1" r="2"/>
<circle cx="559.6" cy="112.1" r="2"/>
<circle cx="569.6" cy="120.8" r="2"/>
<circle cx="551.3" cy="99.7" r="2"/>
<circle cx="562.8" cy="110.0" r="2"/>
<circle cx="585.4" cy="65.9" r="2"/>
<circle cx="571.4" cy="57.2" r="2"/>
<circle cx="547.8" cy="127.8" r="2"/>
<circle cx="568.5" cy="62.5" r="2"/>
<circle cx="564.0" cy="99.1" r="2"/>
<circle cx="578.4" cy="83.4" r="2"/>
<circle cx="572.3" cy="110.8" r="2"/>
<circle cx="549.1" cy="135.7" r="2"/>
<circle cx="574.4" cy="58.6" r="2"/>
<circle cx="543.7" cy="111.2" r="2"/>
<circle cx="546.7" cy="145.4" r="2"/>
<circle cx="574.8" cy="63.6" r="2"/>
<circle cx="544.8" cy="127.6" r="2"/>
<circle cx="555.0" cy="82.9" r="2"/>
<circle cx="569.9" cy="65.8" r="2"/>
<circle cx="554.1" cy="97.1" r="2"/>
<circle cx="547.0" cy="147.3" r="2"/>
<circle cx="549.9" cy="114.8" r="2"/>
<circle cx="551.4" cy="76.6" r="2"/>
<circle cx="547.3" cy="104.0" r="2"/>
<circle cx="594.7" cy="53.1" r="2"/>
<circle cx="545.5" cy="128.3" r="2"/>
<circle cx="553.2" cy="83.2" r="2"/>
<circle cx="588.0" cy="57.0" r="2"/>
<circle cx="578.2" cy="44.9" r="2"/>
<circle cx="561.1" cy="74.4" r="2"/>
<circle cx="571.8" cy="81.6" r="2"/>
<circle cx="592.9" cy="67.8" r="2"/>
<circle cx="546.9" cy="108.1" r="2"/>
<circle cx="562.5" cy="99.9" r="2"/>
<circle cx="538.3" cy="143.4" r="2"/>
<circle cx="554.6" cy="137.0" r="2"/>
<circle cx="581.7" cy="68.3" r="2"/>
<circle cx="549.5" cy="126.1" r="2"/>
<circle cx="543.7" cy="77.3" r="2"/>
<circle cx="569.6" cy="95.1" r="2"/>
<circle cx="567.0" cy="92.4" r="2"/>
<circle cx="545.5" cy="73.6" r="2"/>
<circle cx="559.5" cy="89.4" r="2"/>
<circle cx="567.4" cy="104.8" r="2"/>
<circle cx="571.6" cy="61.2" r="2"/>
<circle cx="567.1" cy="92.7" r="2"/>
<circle cx="577.4" cy="94.3" r="2"/>
<circle cx="539.6" cy="143.3" r="2"/>
<circle cx="571.1" cy="66.8" r="2"/>
<circle cx="576.6" cy="95.6" r="2"/>
<circle cx="567.1" cy="102.2" r="2"/>
<circle cx="575.4" cy="49.6" r="2"/>
<circle cx="561.8" cy="100.6" r="2"/>
<circle cx="576.6" cy="54.2" r="2"/>
<circle cx="572.6" cy="83.6" r="2"/>
<circle cx="559.0" cy="128.6" r="2"/>
<circle cx="556.7" cy="118.4" r="2"/>
<circle cx="554.4" cy="110.1" r="2"/>
<circle cx="564.2" cy="73.8" r="2"/>
<circle cx="567.0" cy="94.1" r="2"/>
<circle cx="576.2" cy="100.4" r="2"/>
<circle cx="565.2" cy="102.4" r="2"/>
<circle cx="572.6" cy="82.5" r="2"/>
<circle cx="544.5" cy="92.1" r="2"/>
<circle cx="541.6" cy="118.0" r="2"/>
<circle cx="569.2" cy="65.4" r="2"/>
<circle cx="588.4" cy="50.1" r="2"/>
<circle cx="563.5" cy="115.7" r="2"/>
<circle cx="575.6" cy="63.5" r="2"/>
<circle cx="554.4" cy="103.2" r="2"/>
<circle cx="540.2" cy="145.8" r="2"/>
<circle cx="569.9" cy="36.5" r="2"/>
<circle cx="544.0" cy="94.3" r="2"/>
<circle cx="553.7" cy="122.5" r="2"/>
<circle cx="540.2" cy="131.4" r="2"/>
<circle cx="558.4" cy="88.6" r="2"/>
<circle cx="573.4" cy="122.9" r="2"/>
<circle cx="534.5" cy="137.4" r="2"/>
<circle cx="563.6" cy="110.1" r="2"/>
<circle cx="560.3" cy="93.6" r="2"/>
<circle cx="565.8" cy="76.0" r="2"/>
<circle cx="553.2" cy="122.8" r="2"/>
<circle cx="543.6" cy="121.6" r="2"/>
<circle cx="580.7" cy="93.8" r="2"/>
<circle cx="553.4" cy="76.0" r="2"/>
<circle cx="552.9" cy="83.0" r="2"/>
<circle cx="583.0" cy="51.9" r="2"/>
<circle cx="539.4" cy="103.1" r="2"/>
<circle cx="580.4" cy="57.1" r="2"/>
<circle cx="540.7" cy="102.8" r="2"/>
<circle cx="548.8" cy="136.4" r="2"/>
<circle cx="559.6" cy="107.5" r="2"/>
<circle cx="583.7" cy="83.5" r="2"/>
<circle cx="553.0" cy="108.7" r="2"/>
<circle cx="588.1" cy="70.5" r="2"/>
<circle cx="571.3" cy="72.9" r="2"/>
<circle cx="564.6" cy="103.5" r="2"/>
<circle cx="560.7" cy="132.6" r="2"/>
<circle cx="561.5" cy="88.3" r="2"/>
<circle cx="581.5" cy="82.0" r="2"/>
<circle cx="578.1" cy="70.9" r="2"/>
<circle cx="575.0" cy="48.4" r="2"/>
<circle cx="562.9" cy="95.2" r="2"/>
<circle cx="539.8" cy="137.8" r="2"/>
<circle cx="571.7" cy="86.0" r="2"/>
<circle cx="548.7" cy="113.4" r="2"/>
<circle cx="563.6" cy="75.0" r="2"/>
<circle cx="554.4" cy="146.6" r="2"/>
<circle cx="571.7" cy="71.2" r="2"/>
<circle cx="590.8" cy="45.0" r="2"/>
<circle cx="560.8" cy="117.2" r="2"/>
<circle cx="580.0" cy="65.1" r="2"/>
<circle cx="545.0" cy="130.3" r="2"/>
<circle cx="551.6" cy="139.3" r="2"/>
<circle cx="546.3" cy="129.1" r="2"/>
<circle cx="545.8" cy="115.5" r="2"/>
<circle cx="577.0" cy="42.2" r="2"/>
<circle cx="573.2" cy="117.8" r="2"/>
<circle cx="551.1" cy="83.4" r="2"/>
<circle cx="543.1" cy="114.6" r="2"/>
<circle cx="558.3" cy="82.4" r="2"/>
<circle cx="575.6" cy="57.8" r="2"/>
<circle cx="538.3" cy="137.7" r="2"/>
<circle cx="557.8" cy="131.6" r="2"/>
<circle cx="544.9" cy="136.1" r="2"/>
<circle cx="550.8" cy="83.0" r="2"/>
<circle cx="550.6" cy="96.6" r="2"/>
<circle cx="591.1" cy="62.8" r="2"/>
<circle cx="539.8" cy="129.4" r="2"/>
<circle cx="542.0" cy="119.8" r="2"/>
<circle cx="545.4" cy="115.9" r="2"/>
<circle cx="559.2" cy="71.8" r="2"/>
<circle cx="555.4" cy="132.3" r="2"/>
<circle cx="540.4" cy="135.2" r="2"/>
<circle cx="560.8" cy="78.0" r="2"/>
<circle cx="575.0" cy="69.6" r="2"/>
<circle cx="565.9" cy="134.7" r="2"/>
<circle cx="566.6" cy="74.0" r="2"/>
<circle cx="566.5" cy="107.0" r="2"/>
<circle cx="555.6" cy="106.8" r="2"/>
<circle cx="568.4" cy="50.6" r="2"/>
<circle cx="582.6" cy="51.7" r="2"/>
<circle cx="549.0" cy="110.5" r="2"/>
<circle cx="580.8" cy="47.2" r="2"/>
<circle cx="572.0" cy="106.7" r="2"/>
<circle cx="565.9" cy="104.2" r="2"/>
<circle cx="587.4" cy="67.3" r="2"/>
<circle cx="583.4" cy="63.0" r="2"/>
<circle cx="594.4" cy="57.2" r="2"/>
<circle cx="537.2" cy="144.8" r="2"/>
<circle cx="581.9" cy="37.2" r="2"/>
<circle cx="553.9" cy="66.6" r="2"/>
<circle cx="545.7" cy="134.4" r="2"/>
<circle cx="585.3" cy="72.6" r="2"/>
<circle cx="560.5" cy="126.9" r="2"/>
<circle cx="569.4" cy="81.4" r="2"/>
<circle cx="584.6" cy="92.6" r="2"/>
<circle cx="579.6" cy="104.2" r="2"/>
<circle cx="558.0" cy="95.2" r="2"/>
<circle cx="579.9" cy="74.4" r="2"/>
<circle cx="568.3" cy="63.8" r="2"/>
<circle cx="588.1" cy="60.8" r="2"/>
<circle cx="568.6" cy="40.6" r="2"/>
<circle cx="566.6" cy="92.6" r="2"/>
<circle cx="549.0" cy="101.7" r="2"/>
<circle cx="564.0" cy="72.2" r="2"/>
<circle cx="559.9" cy="120.7" r="2"/>
<circle cx="567.8" cy="112.8" r="2"/>
<circle cx="554.5" cy="130.3" r="2"/>
<circle cx="584.0" cy="69.5" r="2"/>
<circle cx="569.2" cy="87.0" r="2"/>
<circle cx="552.2" cy="142.0" r="2"/>
<circle cx="564.0" cy="117.6" r="2"/>
<circle cx="568.0" cy="86.0" r="2"/>
<circle cx="562.3" cy="123.9" r="2"/>
<circle cx="564.0" cy="111.3" r="2"/>
<circle cx="544.9" cy="115.4" r="2"/>
<circle cx="552.7" cy="96.6" r="2"/>
<circle cx="553.0" cy="139.5" r="2"/>
<circle cx="551.2" cy="92.3" r="2"/>
<circle cx="552.5" cy="114.1" r="2"/>
<circle cx="542.6" cy="147.3" r="2"/>
<circle cx="556.2" cy="105.7" r="2"/>
<circle cx="539.5" cy="125.4" r="2"/>
<circle cx="568.9" cy="110.6" r="2"/>
<circle cx="554.2" cy="81.9" r="2"/>
<circle cx="569.5" cy="115.1" r="2"/>
<circle cx="562.0" cy="149.7" r="2"/>
<circle cx="583.4" cy="61.7" r="2"/>
<circle cx="572.7" cy="75.1" r="2"/>
<circle cx="578.3" cy="96.5" r="2"/>
<circle cx="572.4" cy="60.6" r="2"/>
<circle cx="576.6" cy="67.8" r="2"/>
<circle cx="571.5" cy="64.0" r="2"/>
<circle cx="576.5" cy="91.0" r="2"/>
<circle cx="578.4" cy="111.4" r="2"/>
<circle cx="535.7" cy="135.5" r="2"/>
<circle cx="563.6" cy="107.0" r="2"/>
<circle cx="581.7" cy="63.4" r="2"/>
<circle cx="546.7" cy="146.9" r="2"/>
<circle cx="554.4" cy="88.9" r="2"/>
<circle cx="550.6" cy="147.1" r="2"/>
<circle cx="556.2" cy="84.3" r="2"/>
<circle cx="556.6" cy="105.8" r="2"/>
<circle cx="571.7" cy="104.1" r="2"/>
<circle cx="555.2" cy="116.1" r="2"/>
<circle cx="573.9" cy="44.8" r="2"/>
<circle cx="570.6" cy="74.1" r="2"/>
<circle cx="548.3" cy="127.6" r="2"/>
<circle cx="572.2" cy="78.2" r="2"/>
<circle cx="585.7" cy="62.6" r="2"/>
<circle cx="553.7" cy="133.5" r="2"/>
<circle cx="566.0" cy="103.0" r="2"/>
<circle cx="566.8" cy="50.4" r="2"/>
<circle cx="569.1" cy="70.1" r="2"/>
<circle cx="558.2" cy="105.1" r="2"/>
<circle cx="561.4" cy="103.6" r="2"/>
<circle cx="545.3" cy="109.7" r="2"/>
<circle cx="554.8" cy="81.0" r="2"/>
<circle cx="582.2" cy="68.0" r="2"/>
<circle cx="567.0" cy="84.8" r="2"/>
<circle cx="537.1" cy="90.6" r="2"/>
<circle cx="553.7" cy="95.0" r="2"/>
<circle cx="590.3" cy="63.2" r="2"/>
<circle cx="549.3" cy="121.7" r="2"/>
<circle cx="552.9" cy="116.8" r="2"/>
<circle cx="572.6" cy="48.7" r="2"/>
<circle cx="568.1" cy="98.4" r="2"/>
<circle cx="578.5" cy="53.3" r="2"/>
<circle cx="560.5" cy="89.3" r="2"/>
<circle cx="568.8" cy="85.7" r="2"/>
<circle cx="572.2" cy="54.7" r="2"/>
<circle cx="570.0" cy="87.9" r="2"/>
<circle cx="562.8" cy="135.7" r="2"/>
<circle cx="570.1" cy="123.0" r="2"/>
<circle cx="551.8" cy="111.3" r="2"/>
<circle cx="550.8" cy="72.9" r="2"/>
<circle cx="539.4" cy="146.2" r="2"/>
<circle cx="549.7" cy="97.9" r="2"/>
<circle cx="563.7" cy="123.6" r="2"/>
<circle cx="548.8" cy="115.1" r="2"/>
<circle cx="562.6" cy="141.7" r="2"/>
<circle cx="543.5" cy="126.4" r="2"/>
<circle cx="552.7" cy="102.4" r="2"/>
<circle cx="566.7" cy="77.3" r="2"/>
<circle cx="588.5" cy="14.6" r="2"/>
<circle cx="537.3" cy="102.9" r="2"/>
<circle cx="551.9" cy="92.3" r="2"/>
<circle cx="559.0" cy="100.6" r="2"/>
<circle cx="572.1" cy="73.9" r="2"/>
<circle cx="568.3" cy="73.6" r="2"/>
<circle cx="553.2" cy="86.5" r="2"/>
<circle cx="541.9" cy="129.1" r="2"/>
<circle cx="549.5" cy="139.2" r="2"/>
<circle cx="558.0" cy="92.4" r="2"/>
<circle cx="567.7" cy="117.9" r="2"/>
<circle cx="570.3" cy="51.9" r="2"/>
<circle cx="540.5" cy="101.5" r="2"/>
<circle cx="533.8" cy="118.8" r="2"/>
<circle cx="542.5" cy="132.4" r="2"/>
<circle cx="551.9" cy="129.1" r="2"/>
<circle cx="555.8" cy="117.3" r="2"/>
<circle cx="577.3" cy="110.2" r="2"/>
<circle cx="547.2" cy="103.8" r="2"/>
<circle cx="592.3" cy="87.0" r="2"/>
<circle cx="563.3" cy="111.3" r="2"/>
<circle cx="574.7" cy="47.2" r="2"/>
<circle cx="559.1" cy="112.4" r="2"/>
<circle cx="584.1" cy="54.7" r="2"/>
<circle cx="551.9" cy="97.5" r="2"/>
<circle cx="582.9" cy="56.9" r="2"/>
<circle cx="570.7" cy="121.8" r="2"/>
<circle cx="548.3" cy="139.9" r="2"/>
<circle cx="571.3" cy="54.0" r="2"/>
<circle cx="557.6" cy="75.5" r="2"/>
<circle cx="553.5" cy="119.0" r="2"/>
<circle cx="547.2" cy="122.9" r="2"/>
<circle cx="553.3" cy="79.5" r="2"/>
<circle cx="589.7" cy="56.7" r="2"/>
<circle cx="572.2" cy="118.6" r="2"/>
<circle cx="549.6" cy="114.2" r="2"/>
<circle cx="539.9" cy="133.1" r="2"/>
<circle cx="568.2" cy="92.0" r="2"/>
<circle cx="563.5" cy="85.6" r="2"/>
<circle cx="570.1" cy="133.9" r="2"/>
<circle cx="567.0" cy="71.2" r="2"/>
<circle cx="569.1" cy="122.2" r="2"/>
<circle cx="584.5" cy="48.7" r="2"/>
<circle cx="547.8" cy="123.2" r="2"/>
<circle cx="556.4" cy="80.3" r="2"/>
<circle cx="573.4" cy="93.1" r="2"/>
<circle cx="547.4" cy="92.5" r="2"/>
<circle cx="561.9" cy="123.5" r="2"/>
<circle cx="570.8" cy="117.7" r="2"/>
<circle cx="573.3" cy="69.3" r="2"/>
<circle cx="553.2" cy="95.8" r="2"/>
<circle cx="581.3" cy="87.6" r="2"/>
<circle cx="571.5" cy="74.9" r="2"/>
<circle cx="578.8" cy="58.5" r="2"/>
<circle cx="563.5" cy="95.3" r="2"/>
<circle cx="562.3" cy="100.0" r="2"/>
<circle cx="576.0" cy="52.9" r="2"/>
<circle cx="563.0" cy="90.9" r="2"/>
<circle cx="565.1" cy="111.5" r="2"/>
<circle cx="549.3" cy="110.9" r="2"/>
<circle cx="561.9" cy="86.9" r="2"/>
<circle cx="573.1" cy="64.9" r="2"/>
<circle cx="574.7" cy="77.3" r="2"/>
<circle cx="562.4" cy="68.3" r="2"/>
<circle cx="561.6" cy="119.2" r="2"/>
<circle cx="551.6" cy="141.0" r="2"/>
<circle cx="570.5" cy="72.6" r="2"/>
<circle cx="576.1" cy="127.0" r="2"/>
<circle cx="560.7" cy="112.2" r="2"/>
<circle cx="547.7" cy="118.6" r="2"/>
<circle cx="558.3" cy="98.0" r="2"/>
<circle cx="577.5" cy="106.7" r="2"/>
<circle cx="547.8" cy="141.4" r="2"/>
<circle cx="554.9" cy="81.0" r="2"/>
<circle cx="591.3" cy="59.2" r="2"/>
<circle cx="564.8" cy="56.3" r="2"/>
<circle cx="575.9" cy="105.3" r="2"/>
<circle cx="561.4" cy="119.9" r="2"/>
<circle cx="566.5" cy="125.0" r="2"/>
<circle cx="550.8" cy="119.8" r="2"/>
<circle cx="599.0" cy="16.8" r="2"/>
<circle cx="571.6" cy="120.7" r="2"/>
<circle cx="568.4" cy="106.8" r="2"/>
<circle cx="547.9" cy="145.8" r="2"/>
<circle cx="590.6" cy="49.4" r="2"/>
<circle cx="574.0" cy="114.8" r="2"/>
<circle cx="584.9" cy="107.0" r="2"/>
<circle cx="580.0" cy="73.9" r="2"/>
<circle cx="561.4" cy="105.2" r="2"/>
<circle cx="580.1" cy="56.8" r="2"/>
<circle cx="538.5" cy="138.9" r="2"/>
<circle cx="565.7" cy="117.9" r="2"/>
<circle cx="560.7" cy="142.7" r="2"/>
<circle cx="574.2" cy="101.6" r="2"/>
<circle cx="571.7" cy="115.5" r="2"/>
<circle cx="568.8" cy="79.7" r="2"/>
<circle cx="578.0" cy="75.4" r="2"/>
<circle cx="561.7" cy="104.4" r="2"/>
<circle cx="569.7" cy="108.5" r="2"/>
<circle cx="541.1" cy="141.2" r="2"/>
<circle cx="562.6" cy="65.8" r="2"/>
<circle cx="565.6" cy="112.1" r="2"/>
<circle cx="562.4" cy="77.4" r="2"/>
<circle cx="584.1" cy="41.3" r="2"/>
<circle cx="565.9" cy="133.4" r="2"/>
<circle cx="552.4" cy="104.3" r="2"/>
<circle cx="569.5" cy="94.9" r="2"/>
<circle cx="546.9" cy="125.3" r="2"/>
<circle cx="567.0" cy="79.7" r="2"/>
<circle cx="545.9" cy="133.0" r="2"/>
<circle cx="567.0" cy="87.1" r="2"/>
<circle cx="576.2" cy="89.7" r="2"/>
<circle cx="561.3" cy="106.9" r="2"/>
<circle cx="544.9" cy="103.5" r="2"/>
<circle cx="561.6" cy="97.4" r="2"/>
<circle cx="542.7" cy="116.6" r="2"/>
<circle cx="586.5" cy="89.0" r="2"/>
<circle cx="549.2" cy="79.7" r="2"/>
<circle cx="585.1" cy="41.9" r="2"/>
<circle cx="565.8" cy="87.4" r="2"/>
<circle cx="547.3" cy="83.8" r="2"/>
<circle cx="573.6" cy="102.1" r="2"/>
<circle cx="539.1" cy="104.8" r="2"/>
<circle cx="541.3" cy="141.5" r="2"/>
<circle cx="558.9" cy="106.9" r="2"/>
<circle cx="554.9" cy="126.3" r="2"/>
<circle cx="574.5" cy="118.3" r="2"/>
<circle cx="563.6" cy="90.6" r="2"/>
<circle cx="581.5" cy="80.8" r="2"/>
<circle cx="582.3" cy="83.4" r="2"/>
<circle cx="575.6" cy="56.4" r="2"/>
<circle cx="548.3" cy="77.3" r="2"/>
<circle cx="564.6" cy="64.5" r="2"/>
<circle cx="553.3" cy="88.9" r="2"/>
<circle cx="549.2" cy="113.3" r="2"/>
<circle cx="554.5" cy="116.5" r="2"/>
<circle cx="556.8" cy="123.2" r="2"/>
<circle cx="552.9" cy="136.5" r="2"/>
<circle cx="547.0" cy="76.4" r="2"/>
<circle cx="568.1" cy="96.7" r="2"/>
<circle cx="585.2" cy="59.1" r="2"/>
<circle cx="565.1" cy="93.8" r="2"/>
<circle cx="559.9" cy="104.0" r="2"/>
<circle cx="579.0" cy="110.1" r="2"/>
<circle cx="578.1" cy="70.5" r="2"/>
<circle cx="547.3" cy="101.5" r="2"/>
<circle cx="566.7" cy="83.2" r="2"/>
<circle cx="554.2" cy="105.3" r="2"/>
<circle cx="572.4" cy="118.2" r="2"/>
<circle cx="582.5" cy="45.5" r="2"/>
<circle cx="540.0" cy="127.8" r="2"/>
<circle cx="569.4" cy="103.5" r="2"/>
<circle cx="551.7" cy="113.3" r="2"/>
<circle cx="564.0" cy="96.1" r="2"/>
<circle cx="563.6" cy="111.2" r="2"/>
<circle cx="552.1" cy="104.1" r="2"/>
<circle cx="556.9" cy="70.1" r="2"/>
<circle cx="575.9" cy="90.5" r="2"/>
<circle cx="573.2" cy="126.7" r="2"/>
<circle cx="574.8" cy="116.4" r="2"/>
<circle cx="565.4" cy="129.6" r="2"/>
<circle cx="554.1" cy="126.9" r="2"/>
<circle cx="546.3" cy="114.4" r="2"/>
<circle cx="557.8" cy="115.8" r="2"/>
<circle cx="548.7" cy="137.0" r="2"/>
<circle cx="558.4" cy="122.8" r="2"/>
<circle cx="563.4" cy="66.1" r="2"/>
<circle cx="542.6" cy="138.4" r="2"/>
<circle cx="543.9" cy="114.1" r="2"/>
<circle cx="560.2" cy="59.0" r="2"/>
<circle cx="576.9" cy="74.2" r="2"/>
<circle cx="551.9" cy="144.1" r="2"/>
<circle cx="562.9" cy="107.0" r="2"/>
<circle cx="566.8" cy="111.3" r="2"/>
<circle cx="583.6" cy="40.4" r="2"/>
<circle cx="567.9" cy="92.1" r="2"/>
<circle cx="542.0" cy="103.6" r="2"/>
<circle cx="579.5" cy="63.8" r="2"/>
<circle cx="581.8" cy="43.2" r="2"/>
<circle cx="569.6" cy="75.9" r="2"/>
<circle cx="561.8" cy="87.7" r="2"/>
<circle cx="548.4" cy="104.6" r="2"/>
<circle cx="541.9" cy="106.6" r="2"/>
<circle cx="568.8" cy="107.6" r="2"/>
<circle cx="546.0" cy="133.0" r="2"/>
<circle cx="568.2" cy="72.5" r="2"/>
<circle cx="550.9" cy="78.4" r="2"/>
<circle cx="545.1" cy="131.4" r="2"/>
<circle cx="557.4" cy="147.3" r="2"/>
<circle cx="548.6" cy="120.5" r="2"/>
<circle cx="585.5" cy="100.5" r="2"/>
<circle cx="553.3" cy="119.4" r="2"/>
<circle cx="550.2" cy="114.2" r="2"/>
<circle cx="585.6" cy="44.1" r="2"/>
<circle cx="564.2" cy="105.3" r="2"/>
<circle cx="592.9" cy="56.1" r="2"/>
<circle cx="559.1" cy="83.0" r="2"/>
<circle cx="572.5" cy="62.6" r="2"/>
<circle cx="550.9" cy="99.0" r="2"/>
<circle cx="561.7" cy="118.1" r="2"/>
<circle cx="582.0" cy="88.0" r="2"/>
<circle cx="564.6" cy="99.4" r="2"/>
<circle cx="572.6" cy="85.7" r="2"/>
<circle cx="549.5" cy="72.6" r="2"/>
<circle cx="564.7" cy="128.5" r="2"/>
<circle cx="571.7" cy="95.8" r="2"/>
<circle cx="570.1" cy="46.4" r="2"/>
<circle cx="576.9" cy="66.9" r="2"/>
<circle cx="577.3" cy="58.7" r="2"/>
<circle cx="543.0" cy="116.3" r="2"/>
<circle cx="580.9" cy="59.4" r="2"/>
<circle cx="571.8" cy="113.8" r="2"/>
<circle cx="578.8" cy="68.1" r="2"/>
<circle cx="569.4" cy="117.1" r="2"/>
<circle cx="546.6" cy="90.0" r="2"/>
<circle cx="568.6" cy="67.4" r="2"/>
<circle cx="552.9" cy="141.9" r="2"/>
<circle cx="582.3" cy="59.1" r="2"/>
<circle cx="565.8" cy="104.4" r="2"/>
<circle cx="570.7" cy="120.6" r="2"/>
<circle cx="583.5" cy="57.5" r="2"/>
<circle cx="579.3" cy="101.0" r="2"/>
<circle cx="552.4" cy="108.9" r="2"/>
<circle cx="556.6" cy="85.4" r="2"/>
<circle cx="549.7" cy="123.3" r="2"/>
<circle cx="541.5" cy="128.9" r="2"/>
<circle cx="577.7" cy="45.7" r="2"/>
<circle cx="553.9" cy="107.2" r="2"/>
<circle cx="568.8" cy="83.0" r="2"/>
<circle cx="561.1" cy="64.8" r="2"/>
<circle cx="584.5" cy="45.8" r="2"/>
<circle cx="558.1" cy="76.3" r="2"/>
<circle cx="573.9" cy="58.5" r="2"/>
<circle cx="568.7" cy="104.5" r="2"/>
<circle cx="577.0" cy="85.5" r="2"/>
<circle cx="562.3" cy="113.9" r="2"/>
<circle cx="578.4" cy="42.0" r="2"/>
<circle cx="540.5" cy="116.9" r="2"/>
<circle cx="551.8" cy="128.1" r="2"/>
<circle cx="572.5" cy="108.7" r="2"/>
<circle cx="571.1" cy="61.3" r="2"/>
<circle cx="577.8" cy="54.8" r="2"/>
<circle cx="556.5" cy="106.7" r="2"/>
<circle cx="542.2" cy="108.2" r="2"/>
<circle cx="575.7" cy="43.4" r="2"/>
<circle cx="549.8" cy="106.7" r="2"/>
<circle cx="534.4" cy="110.8" r="2"/>
<circle cx="562.7" cy="63.8" r="2"/>
<circle cx="568.3" cy="103.2" r="2"/>
<circle cx="552.1" cy="127.0" r="2"/>
<circle cx="549.0" cy="124.4" r="2"/>
<circle cx="563.9" cy="83.3" r="2"/>
<circle cx="593.2" cy="73.5" r="2"/>
<circle cx="573.0" cy="129.6" r="2"/>
<circle cx="583.6" cy="44.7" r="2"/>
<circle cx="537.6" cy="144.4" r="2"/>
<circle cx="548.5" cy="130.7" r="2"/>
<circle cx="569.5" cy="112.2" r="2"/>
<circle cx="561.7" cy="128.9" r="2"/>
<circle cx="563.5" cy="93.6" r="2"/>
<circle cx="551.8" cy="102.6" r="2"/>
<circle cx="543.9" cy="119.4" r="2"/>
<circle cx="571.3" cy="61.5" r="2"/>
<circle cx="589.5" cy="61.5" r="2"/>
<circle cx="557.7" cy="102.8" r="2"/>
<circle cx="575.7" cy="59.5" r="2"/>
<circle cx="553.7" cy="125.6" r="2"/>
<circle cx="577.7" cy="73.1" r="2"/>
<circle cx="559.8" cy="143.7" r="2"/>
<circle cx="544.0" cy="112.0" r="2"/>
<circle cx="535.3" cy="140.2" r="2"/>
<circle cx="568.8" cy="135.1" r="2"/>
<circle cx="577.4" cy="109.6" r="2"/>
<circle cx="582.3" cy="80.7" r="2"/>
<circle cx="556.6" cy="94.6" r="2"/>
<circle cx="559.5" cy="104.2" r="2"/>
<circle cx="550.7" cy="106.3" r="2"/>
<circle cx="549.7" cy="97.0" r="2"/>
<circle cx="554.6" cy="139.6" r="2"/>
<circle cx="540.9" cy="137.6" r="2"/>
<circle cx="552.0" cy="119.1" r="2"/>
<circle cx="551.4" cy="105.9" r="2"/>
<circle cx="570.1" cy="72.0" r="2"/>
<circle cx="549.5" cy="147.8" r="2"/>
<circle cx="563.2" cy="86.2" r="2"/>
<circle cx="552.8" cy="106.6" r="2"/>
<circle cx="572.6" cy="84.6" r="2"/>
<circle cx="539.2" cy="110.9" r="2"/>
<circle cx="548.1" cy="139.0" r="2"/>
<circle cx="560.0" cy="116.5" r="2"/>
<circle cx="566.4" cy="60.1" r="2"/>
<circle cx="592.0" cy="63.6" r="2"/>
<circle cx="562.7" cy="110.3" r="2"/>
<circle cx="536.8" cy="138.3" r="2"/>
<circle cx="555.8" cy="82.3" r="2"/>
<circle cx="579.9" cy="47.3" r="2"/>
<circle cx="568.0" cy="72.8" r="2"/>
<circle cx="571.0" cy="78.1" r="2"/>
<circle cx="569.0" cy="68.6" r="2"/>
<circle cx="557.6" cy="71.6" r="2"/>
<circle cx="555.0" cy="130.0" r="2"/>
<circle cx="587.6" cy="73.4" r="2"/>
<circle cx="583.3" cy="79.6" r="2"/>
<circle cx="542.5" cy="130.5" r="2"/>
<circle cx="534.8" cy="120.3" r="2"/>
<circle cx="547.4" cy="129.0" r="2"/>
<circle cx="550.9" cy="97.6" r="2"/>
<circle cx="571.7" cy="78.5" r="2"/>
<circle cx="546.1" cy="95.2" r="2"/>
<circle cx="563.2" cy="131.6" r="2"/>
<circle cx="556.5" cy="124.4" r="2"/>
<circle cx="563.4" cy="124.9" r="2"/>
<circle cx="551.5" cy="86.3" r="2"/>
<circle cx="584.9" cy="62.3" r="2"/>
<circle cx="575.5" cy="87.2" r="2"/>
<circle cx="565.4" cy="76.7" r="2"/>
<circle cx="548.9" cy="115.5" r="2"/>
<circle cx="546.8" cy="137.0" r="2"/>
<circle cx="545.3" cy="105.3" r="2"/>
<circle cx="570.6" cy="89.1" r="2"/>
<circle cx="572.9" cy="52.5" r="2"/>
<circle cx="570.1" cy="71.7" r="2"/>
<circle cx="577.5" cy="111.6" r="2"/>
<circle cx="567.6" cy="88.4" r="2"/>
<circle cx="579.8" cy="109.4" r="2"/>
<circle cx="566.7" cy="66.6" r="2"/>
<circle cx="576.2" cy="68.7" r="2"/>
<circle cx="580.2" cy="84.8" r="2"/>
<circle cx="594.3" cy="70.2" r="2"/>
<circle cx="550.2" cy="77.5" r="2"/>
<circle cx="578.0" cy="43.1" r="2"/>
<circle cx="594.1" cy="74.2" r="2"/>
<circle cx="547.9" cy="116.6" r="2"/>
<circle cx="555.5" cy="112.7" r="2"/>
<circle cx="550.7" cy="128.3" r="2"/>
<circle cx="567.4" cy="114.3" r="2"/>
<circle cx="591.3" cy="58.1" r="2"/>
<circle cx="545.6" cy="84.6" r="2"/>
<circle cx="554.2" cy="73.2" r="2"/>
<circle cx="549.3" cy="69.5" r="2"/>
<circle cx="539.1" cy="138.7" r="2"/>
<circle cx="572.6" cy="118.1" r="2"/>
<circle cx="574.4" cy="106.2" r="2"/>
<circle cx="558.0" cy="89.0" r="2"/>
<circle cx="579.0" cy="117.9" r="2"/>
<circle cx="586.5" cy="80.6" r="2"/>
<circle cx="574.9" cy="53.9" r="2"/>
<circle cx="589.7" cy="22.5" r="2"/>
<circle cx="552.4" cy="137.5" r="2"/>
<circle cx="564.4" cy="88.3" r="2"/>
<circle cx="570.0" cy="77.7" r="2"/>
<circle cx="539.2" cy="135.0" r="2"/>
<circle cx="546.5" cy="122.8" r="2"/>
<circle cx="565.8" cy="121.4" r="2"/>
<circle cx="574.0" cy="102.0" r="2"/>
<circle cx="570.2" cy="89.5" r="2"/>
<circle cx="559.4" cy="89.5" r="2"/>
<circle cx="578.9" cy="76.0" r="2"/>
<circle cx="600.7" cy="32.0" r="2"/>
<circle cx="540.4" cy="145.2" r="2"/>
<circle cx="550.9" cy="86.3" r="2"/>
<circle cx="572.5" cy="47.6" r="2"/>
<circle cx="568.4" cy="92.9" r="2"/>
<circle cx="578.6" cy="58.6" r="2"/>
<circle cx="556.6" cy="144.6" r="2"/>
<circle cx="546.3" cy="93.1" r="2"/>
<circle cx="574.8" cy="71.0" r="2"/>
<circle cx="572.1" cy="67.1" r="2"/>
<circle cx="569.3" cy="63.1" r="2"/>
<circle cx="557.0" cy="145.9" r="2"/>
<circle cx="546.6" cy="115.5" r="2"/>
<circle cx="564.2" cy="78.7" r="2"/>
<circle cx="559.0" cy="117.9" r="2"/>
<circle cx="562.7" cy="116.4" r="2"/>
<circle cx="572.6" cy="68.6" r="2"/>
<circle cx="575.2" cy="115.6" r="2"/>
<circle cx="560.1" cy="115.8" r="2"/>
<circle cx="566.2" cy="112.2" r="2"/>
<circle cx="572.2" cy="74.0" r="2"/>
<circle cx="539.0" cy="134.9" r="2"/>
<circle cx="580.1" cy="106.3" r="2"/>
<circle cx="575.9" cy="51.8" r="2"/>
<circle cx="576.3" cy="67.6" r="2"/>
<circle cx="552.0" cy="108.7" r="2"/>
<circle cx="571.3" cy="86.2" r="2"/>
<circle cx="576.8" cy="96.8" r="2"/>
<circle cx="561.2" cy="105.6" r="2"/>
<circle cx="585.6" cy="51.8" r="2"/>
<circle cx="601.3" cy="39.6" r="2"/>
<circle cx="572.1" cy="108.2" r="2"/>
<circle cx="593.9" cy="44.6" r="2"/>
<circle cx="565.4" cy="127.8" r="2"/>
<circle cx="572.8" cy="43.6" r="2"/>
<circle cx="555.7" cy="106.0" r="2"/>
<circle cx="556.4" cy="108.1" r="2"/>
<circle cx="558.1" cy="129.1" r="2"/>
<circle cx="563.7" cy="91.0" r="2"/>
<circle cx="571.4" cy="44.2" r="2"/>
<circle cx="548.6" cy="119.1" r="2"/>
<circle cx="596.7" cy="49.5" r="2"/>
<circle cx="545.3" cy="125.4" r="2"/>
<circle cx="568.1" cy="67.5" r="2"/>
<circle cx="569.5" cy="98.2" r="2"/>
<circle cx="544.6" cy="121.7" r="2"/>
<circle cx="542.9" cy="125.0" r="2"/>
<circle cx="577.9" cy="73.3" r="2"/>
<circle cx="573.3" cy="66.9" r="2"/>
<circle cx="566.3" cy="80.9" r="2"/>
<circle cx="559.8" cy="111.9" r="2"/>
<circle cx="547.9" cy="115.5" r="2"/>
<circle cx="575.9" cy="83.5" r="2"/>
<circle cx="548.8" cy="107.4" r="2"/>
<circle cx="556.5" cy="91.0" r="2"/>
<circle cx="561.9" cy="109.0" r="2"/>
<circle cx="562.7" cy="124.9" r="2"/>
<circle cx="552.7" cy="123.9" r="2"/>
<circle cx="572.8" cy="117.6" r="2"/>
<circle cx="583.4" cy="113.6" r="2"/>
<circle cx="553.2" cy="77.5" r="2"/>
<circle cx="576.2" cy="49.9" r="2"/>
<circle cx="550.7" cy="105.6" r="2"/>
<circle cx="563.4" cy="88.0" r="2"/>
<circle cx="547.7" cy="98.4" r="2"/>
<circle cx="565.3" cy="81.5" r="2"/>
<circle cx="577.0" cy="113.9" r="2"/>
<circle cx="567.3" cy="118.0" r="2"/>
<circle cx="584.4" cy="67.0" r="2"/>
<circle cx="552.7" cy="101.1" r="2"/>
<circle cx="574.6" cy="44.4" r="2"/>
<circle cx="576.0" cy="62.2" r="2"/>
<circle cx="564.3" cy="108.5" r="2"/>
<circle cx="595.8" cy="66.2" r="2"/>
<circle cx="584.8" cy="50.7" r="2"/>
<circle cx="556.4" cy="65.9" r="2"/>
<circle cx="551.1" cy="123.5" r="2"/>
<circle cx="587.3" cy="50.6" r="2"/>
<circle cx="566.6" cy="93.6" r="2"/>
<circle cx="567.5" cy="51.9" r="2"/>
<circle cx="562.0" cy="81.9" r="2"/>
<circle cx="555.9" cy="122.3" r="2"/>
<circle cx="583.7" cy="74.3" r="2"/>
<circle cx="557.6" cy="68.0" r="2"/>
<circle cx="554.1" cy="88.3" r="2"/>
<circle cx="549.7" cy="105.0" r="2"/>
<circle cx="551.0" cy="144.5" r="2"/>
<circle cx="556.9" cy="80.7" r="2"/>
<circle cx="562.7" cy="77.0" r="2"/>
<circle cx="562.9" cy="122.3" r="2"/>
<circle cx="552.9" cy="77.7" r="2"/>
<circle cx="600.6" cy="52.1" r="2"/>
<circle cx="598.4" cy="42.7" r="2"/>
<circle cx="554.0" cy="109.3" r="2"/>
<circle cx="588.2" cy="92.7" r="2"/>
<circle cx="568.3" cy="91.4" r="2"/>
<circle cx="574.4" cy="72.5" r="2"/>
<circle cx="571.9" cy="117.3" r="2"/>
<circle cx="543.1" cy="136.5" r="2"/>
<circle cx="591.4" cy="43.5" r="2"/>
<circle cx="561.8" cy="102.5" r="2"/>
<circle cx="593.5" cy="40.4" r="2"/>
<circle cx="562.0" cy="100.7" r="2"/>
<circle cx="549.7" cy="81.5" r="2"/>
<circle cx="551.8" cy="92.4" r="2"/>
<circle cx="579.9" cy="70.4" r="2"/>
<circle cx="570.0" cy="114.6" r="2"/>
<circle cx="569.9" cy="74.1" r="2"/>
<circle cx="549.6" cy="75.8" r="2"/>
<circle cx="582.8" cy="56.1" r="2"/>
<circle cx="546.7" cy="136.4" r="2"/>
<circle cx="542.0" cy="128.7" r="2"/>
<circle cx="548.9" cy="87.9" r="2"/>
<circle cx="577.7" cy="78.3" r="2"/>
<circle cx="552.0" cy="140.0" r="2"/>
<circle cx="564.4" cy="97.1" r="2"/>
<circle cx="545.9" cy="135.9" r="2"/>
<circle cx="583.4" cy="42.2" r="2"/>
<circle cx="548.0" cy="96.1" r="2"/>
<circle cx="544.2" cy="118.8" r="2"/>
<circle cx="559.6" cy="103.5" r="2"/>
<circle cx="553.2" cy="115.9" r="2"/>
<circle cx="547.3" cy="106.7" r="2"/>
<circle cx="552.4" cy="99.1" r="2"/>
<circle cx="549.6" cy="111.6" r="2"/>
<circle cx="571.6" cy="98.6" r="2"/>
<circle cx="551.0" cy="105.7" r="2"/>
<circle cx="568.7" cy="112.5" r="2"/>
<circle cx="577.8" cy="43.1" r="2"/>
<circle cx="553.9" cy="81.0" r="2"/>
<circle cx="582.3" cy="69.8" r="2"/>
<circle cx="565.7" cy="75.5" r="2"/>
<circle cx="559.5" cy="101.9" r="2"/>
<circle cx="572.6" cy="119.0" r="2"/>
<circle cx="571.5" cy="64.6" r="2"/>
<circle cx="555.5" cy="104.1" r="2"/>
<circle cx="550.0" cy="71.9" r="2"/>
<circle cx="543.3" cy="116.3" r="2"/>
<circle cx="568.3" cy="110.0" r="2"/>
<circle cx="560.1" cy="88.5" r="2"/>
<circle cx="544.2" cy="95.4" r="2"/>
<circle cx="547.4" cy="80.1" r="2"/>
<circle cx="583.1" cy="66.1" r="2"/>
<circle cx="575.4" cy="98.2" r="2"/>
<circle cx="547.8" cy="135.5" r="2"/>
<circle cx="573.1" cy="77.0" r="2"/>
<circle cx="547.3" cy="114.4" r="2"/>
<circle cx="550.1" cy="91.6" r="2"/>
<circle cx="564.5" cy="126.2" r="2"/>
<circle cx="577.8" cy="58.2" r="2"/>
<circle cx="558.0" cy="130.1" r="2"/>
<circle cx="570.9" cy="67.2" r="2"/>
<circle cx="582.6" cy="77.2" r="2"/>
<circle cx="578.1" cy="64.6" r="2"/>
<circle cx="587.8" cy="76.7" r="2"/>
<circle cx="570.3" cy="57.7" r="2"/>
<circle cx="562.7" cy="99.8" r="2"/>
<circle cx="572.7" cy="88.4" r="2"/>
<circle cx="554.7" cy="118.9" r="2"/>
<circle cx="546.9" cy="126.0" r="2"/>
<circle cx="572.7" cy="100.6" r="2"/>
<circle cx="584.5" cy="51.1" r="2"/>
<circle cx="578.5" cy="75.9" r="2"/>
<circle cx="580.0" cy="56.6" r="2"/>
<circle cx="567.4" cy="118.4" r="2"/>
<circle cx="568.5" cy="140.0" r="2"/>
<circle cx="572.4" cy="91.0" r="2"/>
<circle cx="534.2" cy="133.1" r="2"/>
<circle cx="566.4" cy="137.8" r="2"/>
<circle cx="556.0" cy="123.7" r="2"/>
<circle cx="559.8" cy="79.5" r="2"/>
<circle cx="570.4" cy="113.0" r="2"/>
<circle cx="559.2" cy="107.6" r="2"/>
<circle cx="567.1" cy="115.8" r="2"/>
<circle cx="557.3" cy="111.3" r="2"/>
<circle cx="580.9" cy="61.8" r="2"/>
<circle cx="578.8" cy="93.6" r="2"/>
<circle cx="551.2" cy="83.3" r="2"/>
<circle cx="556.3" cy="77.0" r="2"/>
<circle cx="568.5" cy="94.4" r="2"/>
<circle cx="569.0" cy="92.3" r="2"/>
<circle cx="532.9" cy="119.2" r="2"/>
<circle cx="562.7" cy="112.4" r="2"/>
<circle cx="542.2" cy="113.6" r="2"/>
<circle cx="571.6" cy="58.7" r="2"/>
<circle cx="559.9" cy="72.4" r="2"/>
<circle cx="569.3" cy="50.6" r="2"/>
<circle cx="557.6" cy="135.6" r="2"/>
<circle cx="560.4" cy="93.6" r="2"/>
<circle cx="579.2" cy="59.7" r="2"/>
<circle cx="567.3" cy="104.5" r="2"/>
<circle cx="585.7" cy="46.2" r="2"/>
<circle cx="566.6" cy="70.6" r="2"/>
<circle cx="559.2" cy="97.6" r="2"/>
<circle cx="558.1" cy="78.8" r="2"/>
<circle cx="561.6" cy="109.2" r="2"/>
<circle cx="566.7" cy="82.7" r="2"/>
<circle cx="564.8" cy="120.0" r="2"/>
<circle cx="578.9" cy="70.8" r="2"/>
<circle cx="549.1" cy="132.0" r="2"/>
<circle cx="554.9" cy="115.4" r="2"/>
<circle cx="541.2" cy="138.6" r="2"/>
<circle cx="572.7" cy="67.0" r="2"/>
<circle cx="554.6" cy="124.9" r="2"/>
<circle cx="582.6" cy="40.7" r="2"/>
<circle cx="566.3" cy="122.7" r="2"/>
<circle cx="573.6" cy="84.0" r="2"/>
<circle cx="562.6" cy="104.8" r="2"/>
<circle cx="559.5" cy="116.3" r="2"/>
<circle cx="589.9" cy="36.5" r="2"/>
<circle cx="556.1" cy="113.7" r="2"/>
<circle cx="552.1" cy="122.5" r="2"/>
<circle cx="552.1" cy="112.9" r="2"/>
<circle cx="557.8" cy="104.9" r="2"/>
<circle cx="561.5" cy="95.7" r="2"/>
<circle cx="563.2" cy="106.3" r="2"/>
<circle cx="555.9" cy="126.5" r="2"/>
<circle cx="559.5" cy="94.8" r="2"/>
<circle cx="570.6" cy="70.2" r="2"/>
<circle cx="572.7" cy="74.2" r="2"/>
<circle cx="579.5" cy="59.4" r="2"/>
<circle cx="582.0" cy="61.7" r="2"/>
<circle cx="568.9" cy="71.8" r="2"/>
<circle cx="571.6" cy="64.5" r="2"/>
<circle cx="565.9" cy="125.1" r="2"/>
<circle cx="562.5" cy="105.6" r="2"/>
<circle cx="540.4" cy="140.0" r="2"/>
<circle cx="542.4" cy="142.0" r="2"/>
<circle cx="560.8" cy="113.6" r="2"/>
<circle cx="568.1" cy="82.3" r="2"/>
<circle cx="551.2" cy="124.0" r="2"/>
<circle cx="566.0" cy="88.5" r="2"/>
<circle cx="569.9" cy="104.6" r="2"/>
<circle cx="556.5" cy="122.0" r="2"/>
<circle cx="544.0" cy="147.6" r="2"/>
<circle cx="559.1" cy="90.8" r="2"/>
<circle cx="550.5" cy="128.3" r="2"/>
<circle cx="560.9" cy="75.6" r="2"/>
<circle cx="547.1" cy="141.1" r="2"/>
<circle cx="582.7" cy="68.5" r="2"/>
<circle cx="572.4" cy="49.6" r="2"/>
<circle cx="578.9" cy="70.4" r="2"/>
<circle cx="580.2" cy="40.0" r="2"/>
<circle cx="577.7" cy="87.5" r="2"/>
<circle cx="565.4" cy="80.2" r="2"/>
<circle cx="549.7" cy="127.0" r="2"/>
<circle cx="569.9" cy="68.8" r="2"/>
<circle cx="560.5" cy="83.1" r="2"/>
<circle cx="562.4" cy="121.9" r="2"/>
<circle cx="575.9" cy="60.3" r="2"/>
<circle cx="573.8" cy="77.2" r="2"/>
<circle cx="570.6" cy="61.5" r="2"/>
<circle cx="546.4" cy="150.1" r="2"/>
<circle cx="545.6" cy="149.5" r="2"/>
<circle cx="556.7" cy="75.0" r="2"/>
<circle cx="577.4" cy="60.3" r="2"/>
<circle cx="556.1" cy="101.7" r="2"/>
<circle cx="572.8" cy="72.4" r="2"/>
<circle cx="570.3" cy="78.0" r="2"/>
<circle cx="550.0" cy="125.1" r="2"/>
<circle cx="570.6" cy="73.6" r="2"/>
<circle cx="569.3" cy="78.5" r="2"/>
<circle cx="550.2" cy="141.8" r="2"/>
<circle cx="562.6" cy="64.3" r="2"/>
<circle cx="556.0" cy="106.0" r="2"/>
<circle cx="565.1" cy="81.9" r="2"/>
<circle cx="554.6" cy="125.1" r="2"/>
<circle cx="552.6" cy="92.0" r="2"/>
<circle cx="551.7" cy="108.5" r="2"/>
<circle cx="573.1" cy="79.1" r="2"/>
<circle cx="557.7" cy="87.0" r="2"/>
<circle cx="563.4" cy="78.5" r="2"/>
<circle cx="577.5" cy="82.6" r="2"/>
<circle cx="547.7" cy="147.3" r="2"/>
<circle cx="571.7" cy="94.0" r="2"/>
<circle cx="543.7" cy="138.2" r="2"/>
<circle cx="563.4" cy="98.6" r="2"/>
<circle cx="575.2" cy="50.4" r="2"/>
<circle cx="552.3" cy="135.0" r="2"/>
<circle cx="563.9" cy="101.5" r="2"/>
<circle cx="568.5" cy="70.3" r="2"/>
<circle cx="584.0" cy="56.0" r="2"/>
<circle cx="545.7" cy="146.7" r="2"/>
<circle cx="552.4" cy="127.7" r="2"/>
<circle cx="567.0" cy="72.1" r="2"/>
<circle cx="556.9" cy="99.4" r="2"/>
<circle cx="548.2" cy="139.1" r="2"/>
<circle cx="574.3" cy="69.2" r="2"/>
<circle cx="538.4" cy="141.8" r="2"/>
<circle cx="574.5" cy="67.8" r="2"/>
<circle cx="545.3" cy="140.1" r="2"/>
<circle cx="580.6" cy="51.3" r="2"/>
<circle cx="556.7" cy="83.9" r="2"/>
<circle cx="568.6" cy="73.9" r="2"/>
<circle cx="559.8" cy="94.5" r="2"/>
<circle cx="566.3" cy="90.4" r="2"/>
<circle cx="558.9" cy="90.2" r="2"/>
<circle cx="553.7" cy="124.4" r="2"/>
<circle cx="554.7" cy="101.9" r="2"/>
<circle cx="570.4" cy="74.1" r="2"/>
<circle cx="555.5" cy="123.9" r="2"/>
<circle cx="557.4" cy="95.2" r="2"/>
<circle cx="558.4" cy="123.4" r="2"/>
<circle cx="561.1" cy="85.2" r="2"/>
<circle cx="555.5" cy="84.1" r="2"/>
<circle cx="571.7" cy="84.5" r="2"/>
<circle cx="563.8" cy="81.3" r="2"/>
<circle cx="556.7" cy="102.9" r="2"/>
<circle cx="554.5" cy="107.4" r="2"/>
<circle cx="576.1" cy="66.8" r="2"/>
<circle cx="559.4" cy="81.8" r="2"/>
<circle cx="562.8" cy="111.1" r="2"/>
<circle cx="544.1" cy="130.1" r="2"/>
<circle cx="542.1" cy="134.3" r="2"/>
<circle cx="574.8" cy="70.8" r="2"/>
<circle cx="557.1" cy="97.1" r="2"/>
<circle cx="555.6" cy="113.1" r="2"/>
<circle cx="558.4" cy="143.0" r="2"/>
<circle cx="573.7" cy="66.5" r="2"/>
<circle cx="553.2" cy="134.9" r="2"/>
<circle cx="555.1" cy="85.7" r="2"/>
<circle cx="560.9" cy="110.7" r="2"/>
<circle cx="567.3" cy="101.7" r="2"/>
<circle cx="579.3" cy="49.8" r="2"/>
<circle cx="564.2" cy="88.2" r="2"/>
<circle cx="560.0" cy="89.9" r="2"/>
<circle cx="561.0" cy="133.0" r="2"/>
<circle cx="579.9" cy="40.9" r="2"/>
<circle cx="565.5" cy="68.9" r="2"/>
<circle cx="547.2" cy="125.3" r="2"/>
<circle cx="572.0" cy="75.3" r="2"/>
<circle cx="564.5" cy="88.3" r="2"/>
<circle cx="550.3" cy="126.8" r="2"/>
<circle cx="551.0" cy="124.7" r="2"/>
<circle cx="568.4" cy="97.8" r="2"/>
<circle cx="551.2" cy="113.8" r="2"/>
<circle cx="584.0" cy="66.7" r="2"/>
<circle cx="564.6" cy="90.8" r="2"/>
<circle cx="555.1" cy="115.0" r="2"/>
<circle cx="556.6" cy="86.3" r="2"/>
<circle cx="559.0" cy="120.7" r="2"/>
<circle cx="559.4" cy="115.9" r="2"/>
<circle cx="556.7" cy="121.5" r="2"/>
<circle cx="577.6" cy="87.4" r="2"/>
<circle cx="558.8" cy="105.5" r="2"/>
<circle cx="578.9" cy="63.7" r="2"/>
<circle cx="583.7" cy="64.6" r="2"/>
<circle cx="557.3" cy="120.4" r="2"/>
<circle cx="582.7" cy="54.0" r="2"/>
<circle cx="558.3" cy="97.1" r="2"/>
<circle cx="569.7" cy="81.2" r="2"/>
<circle cx="564.0" cy="69.4" r="2"/>
<circle cx="561.8" cy="106.3" r="2"/>
<circle cx="562.3" cy="77.8" r="2"/>
<circle cx="559.6" cy="126.8" r="2"/>
<circle cx="563.0" cy="104.6" r="2"/>
<circle cx="561.2" cy="101.0" r="2"/>
<circle cx="572.2" cy="62.8" r="2"/>
<circle cx="564.1" cy="111.5" r="2"/>
<circle cx="560.5" cy="86.2" r="2"/>
<circle cx="553.4" cy="131.9" r="2"/>
<circle cx="568.3" cy="70.4" r="2"/>
<circle cx="541.4" cy="134.3" r="2"/>
<circle cx="557.6" cy="110.8" r="2"/>
<circle cx="555.5" cy="99.1" r="2"/>
<circle cx="560.3" cy="97.2" r="2"/>
<circle cx="590.5" cy="50.3" r="2"/>
<circle cx="590.6" cy="40.0" r="2"/>
<circle cx="542.0" cy="129.6" r="2"/>
<circle cx="571.3" cy="78.4" r="2"/>
<circle cx="577.4" cy="54.4" r="2"/>
<circle cx="557.1" cy="113.5" r="2"/>
<circle cx="550.7" cy="101.8" r="2"/>
<circle cx="544.8" cy="136.4" r="2"/>
<circle cx="568.5" cy="73.7" r="2"/>
<circle cx="551.8" cy="139.3" r="2"/>
<circle cx="557.6" cy="90.6" r="2"/>
<circle cx="546.9" cy="145.6" r="2"/>
<circle cx="555.0" cy="109.2" r="2"/>
<circle cx="552.9" cy="139.4" r="2"/>
<circle cx="565.6" cy="112.3" r="2"/>
<circle cx="549.9" cy="145.0" r="2"/>
<circle cx="557.9" cy="107.1" r="2"/>
<circle cx="550.7" cy="132.0" r="2"/>
<circle cx="556.7" cy="89.7" r="2"/>
<circle cx="571.9" cy="94.3" r="2"/>
<circle cx="573.1" cy="62.9" r="2"/>
<circle cx="551.6" cy="98.2" r="2"/>
<circle cx="569.5" cy="87.6" r="2"/>
<circle cx="540.5" cy="139.2" r="2"/>
<circle cx="566.1" cy="84.2" r="2"/>
<circle cx="560.1" cy="97.0" r="2"/>
<circle cx="579.6" cy="43.7" r="2"/>
<circle cx="568.1" cy="71.5" r="2"/>
<circle cx="569.0" cy="73.3" r="2"/>
<circle cx="554.9" cy="118.9" r="2"/>
<circle cx="578.0" cy="57.4" r="2"/>
<circle cx="570.2" cy="75.7" r="2"/>
<circle cx="548.6" cy="137.4" r="2"/>
<circle cx="561.0" cy="96.6" r="2"/>
<circle cx="553.8" cy="131.5" r="2"/>
<circle cx="559.5" cy="99.6" r="2"/>
<circle cx="562.4" cy="79.3" r="2"/>
<circle cx="567.7" cy="97.4" r="2"/>
<circle cx="578.8" cy="85.7" r="2"/>
<circle cx="568.4" cy="64.0" r="2"/>
<circle cx="550.9" cy="116.9" r="2"/>
<circle cx="552.3" cy="107.7" r="2"/>
<circle cx="562.1" cy="111.1" r="2"/>
<circle cx="571.0" cy="73.5" r="2"/>
<circle cx="549.8" cy="141.1" r="2"/>
<circle cx="589.2" cy="54.7" r="2"/>
<circle cx="560.3" cy="131.5" r="2"/>
<circle cx="559.4" cy="97.3" r="2"/>
<circle cx="569.2" cy="70.3" r="2"/>
<circle cx="574.8" cy="80.1" r="2"/>
<circle cx="569.9" cy="82.3" r="2"/>
<circle cx="554.8" cy="118.3" r="2"/>
<circle cx="587.8" cy="43.0" r="2"/>
<circle cx="563.8" cy="64.7" r="2"/>
<circle cx="556.1" cy="135.4" r="2"/>
<circle cx="541.0" cy="140.7" r="2"/>
<circle cx="548.8" cy="99.4" r="2"/>
<circle cx="559.3" cy="79.5" r="2"/>
<circle cx="556.4" cy="136.6" r="2"/>
<circle cx="563.6" cy="73.9" r="2"/>
<circle cx="562.1" cy="99.0" r="2"/>
<circle cx="570.0" cy="90.7" r="2"/>
<circle cx="556.2" cy="117.0" r="2"/>
<circle cx="550.8" cy="119.0" r="2"/>
<circle cx="552.1" cy="78.9" r="2"/>
<circle cx="576.6" cy="58.8" r="2"/>
<circle cx="550.5" cy="107.6" r="2"/>
<circle cx="558.7" cy="135.8" r="2"/>
<circle cx="582.5" cy="52.0" r="2"/>
<circle cx="577.4" cy="84.9" r="2"/>
<circle cx="571.0" cy="84.2" r="2"/>
<circle cx="552.8" cy="106.9" r="2"/>
<circle cx="583.1" cy="63.4" r="2"/>
<circle cx="575.2" cy="60.8" r="2"/>
<circle cx="554.5" cy="110.1" r="2"/>
<circle cx="568.6" cy="111.8" r="2"/>
<circle cx="543.1" cy="129.1" r="2"/>
<circle cx="564.9" cy="108.6" r="2"/>
<circle cx="554.6" cy="121.5" r="2"/>
<circle cx="558.9" cy="112.0" r="2"/>
<circle cx="552.5" cy="113.0" r="2"/>
<circle cx="561.5" cy="91.6" r="2"/>
<circle cx="564.0" cy="108.0" r="2"/>
<circle cx="556.4" cy="76.1" r="2"/>
<circle cx="580.2" cy="59.1" r="2"/>
<circle cx="570.6" cy="71.8" r="2"/>
<circle cx="572.0" cy="85.2" r="2"/>
<circle cx="583.5" cy="36.4" r="2"/>
<circle cx="567.1" cy="79.3" r="2"/>
<circle cx="570.1" cy="85.2" r="2"/>
<circle cx="581.8" cy="79.4" r="2"/>
<circle cx="579.4" cy="50.0" r="2"/>
<circle cx="571.5" cy="64.5" r="2"/>
<circle cx="549.9" cy="131.9" r="2"/>
<circle cx="551.5" cy="128.6" r="2"/>
<circle cx="571.6" cy="67.9" r="2"/>
<circle cx="573.1" cy="56.2" r="2"/>
<circle cx="549.1" cy="143.4" r="2"/>
<circle cx="557.2" cy="141.4" r="2"/>
<circle cx="547.7" cy="129.9" r="2"/>
<circle cx="568.2" cy="76.3" r="2"/>
<circle cx="552.1" cy="102.4" r="2"/>
<circle cx="561.9" cy="114.4" r="2"/>
<circle cx="566.7" cy="69.9" r="2"/>
<circle cx="565.0" cy="122.1" r="2"/>
<circle cx="547.1" cy="125.1" r="2"/>
<circle cx="578.7" cy="41.6" r="2"/>
<circle cx="556.6" cy="118.2" r="2"/>
<circle cx="562.9" cy="95.3" r="2"/>
<circle cx="555.0" cy="106.1" r="2"/>
<circle cx="575.0" cy="92.0" r="2"/>
<circle cx="550.4" cy="143.0" r="2"/>
<circle cx="565.3" cy="76.3" r="2"/>
<circle cx="565.8" cy="77.3" r="2"/>
<circle cx="548.8" cy="125.5" r="2"/>
<circle cx="578.2" cy="51.0" r="2"/>
<circle cx="559.1" cy="106.1" r="2"/>
<circle cx="561.9" cy="136.8" r="2"/>
<circle cx="563.0" cy="107.7" r="2"/>
<circle cx="551.1" cy="107.6" r="2"/>
<circle cx="569.7" cy="80.6" r="2"/>
<circle cx="551.2" cy="92.0" r="2"/>
<circle cx="561.2" cy="115.4" r="2"/>
<circle cx="556.2" cy="116.9" r="2"/>
<circle cx="562.2" cy="89.7" r="2"/>
<circle cx="565.9" cy="74.7" r="2"/>
<circle cx="550.6" cy="121.1" r="2"/>
<circle cx="566.3" cy="113.8" r="2"/>
<circle cx="566.4" cy="102.2" r="2"/>
<circle cx="558.7" cy="129.4" r="2"/>
<circle cx="549.4" cy="104.4" r="2"/>
<circle cx="557.6" cy="123.9" r="2"/>
<circle cx="546.8" cy="149.2" r="2"/>
<circle cx="545.9" cy="134.1" r="2"/>
<circle cx="547.5" cy="130.3" r="2"/>
<circle cx="545.6" cy="128.0" r="2"/>
<circle cx="567.5" cy="66.7" r="2"/>
<circle cx="556.6" cy="127.5" r="2"/>
<circle cx="554.3" cy="143.4" r="2"/>
<circle cx="575.5" cy="62.9" r="2"/>
<circle cx="571.5" cy="66.1" r="2"/>
<circle cx="572.2" cy="70.3" r="2"/>
<circle cx="583.8" cy="25.0" r="2"/>
<circle cx="575.9" cy="70.9" r="2"/>
<circle cx="578.8" cy="49.6" r="2"/>
<circle cx="564.4" cy="78.5" r="2"/>
<circle cx="559.5" cy="94.5" r="2"/>
<circle cx="560.0" cy="98.4" r="2"/>
<circle cx="559.6" cy="101.9" r="2"/>
<circle cx="548.5" cy="98.7" r="2"/>
<circle cx="545.0" cy="138.7" r="2"/>
<circle cx="550.1" cy="126.6" r="2"/>
<circle cx="555.4" cy="137.7" r="2"/>
<circle cx="555.3" cy="127.3" r="2"/>
<circle cx="560.3" cy="84.5" r="2"/>
<circle cx="555.8" cy="114.2" r="2"/>
<circle cx="561.9" cy="87.1" r="2"/>
<circle cx="553.2" cy="121.1" r="2"/>
<circle cx="571.6" cy="61.6" r="2"/>
<circle cx="547.4" cy="140.1" r="2"/>
<circle cx="561.7" cy="102.7" r="2"/>
<circle cx="552.3" cy="146.3" r="2"/>
<circle cx="573.5" cy="65.9" r="2"/>
<circle cx="564.3" cy="87.7" r="2"/>
<circle cx="564.0" cy="84.1" r="2"/>
<circle cx="558.4" cy="85.2" r="2"/>
<circle cx="577.4" cy="70.8" r="2"/>
<circle cx="573.2" cy="55.5" r="2"/>
<circle cx="582.3" cy="41.9" r="2"/>
<circle cx="568.2" cy="111.5" r="2"/>
<circle cx="549.4" cy="141.3" r="2"/>
<circle cx="574.2" cy="69.1" r="2"/>
<circle cx="560.0" cy="71.2" r="2"/>
<circle cx="585.7" cy="63.8" r="2"/>
<circle cx="554.9" cy="110.1" r="2"/>
<circle cx="554.8" cy="88.6" r="2"/>
<circle cx="557.2" cy="74.6" r="2"/>
<circle cx="539.9" cy="143.6" r="2"/>
<circle cx="568.3" cy="90.6" r="2"/>
<circle cx="560.1" cy="85.1" r="2"/>
<circle cx="555.1" cy="90.3" r="2"/>
<circle cx="562.6" cy="129.1" r="2"/>
<circle cx="547.7" cy="112.6" r="2"/>
<circle cx="567.6" cy="93.1" r="2"/>
<circle cx="559.9" cy="134.3" r="2"/>
<circle cx="558.0" cy="114.0" r="2"/>
<circle cx="564.8" cy="92.8" r="2"/>
<circle cx="559.6" cy="81.6" r="2"/>
<circle cx="558.5" cy="84.7" r="2"/>
<circle cx="563.7" cy="97.7" r="2"/>
<circle cx="575.5" cy="86.6" r="2"/>
<circle cx="564.8" cy="84.2" r="2"/>
<circle cx="554.5" cy="105.9" r="2"/>
<circle cx="575.8" cy="73.1" r="2"/>
<circle cx="565.7" cy="86.3" r="2"/>
<circle cx="554.0" cy="84.1" r="2"/>
<circle cx="568.7" cy="85.0" r="2"/>
<circle cx="559.9" cy="90.5" r="2"/>
<circle cx="565.0" cy="78.6" r="2"/>
<circle cx="556.8" cy="101.0" r="2"/>
<circle cx="562.3" cy="93.6" r="2"/>
<circle cx="557.8" cy="124.3" r="2"/>
<circle cx="562.6" cy="124.0" r="2"/>
<circle cx="594.2" cy="9.9" r="2"/>
<circle cx="579.0" cy="52.5" r="2"/>
<circle cx="568.5" cy="82.1" r="2"/>
<circle cx="566.7" cy="99.7" r="2"/>
<circle cx="544.6" cy="130.4" r="2"/>
<circle cx="573.4" cy="67.7" r="2"/>
<circle cx="554.3" cy="109.9" r="2"/>
<circle cx="559.5" cy="90.4" r="2"/>
<circle cx="545.3" cy="140.1" r="2"/>
<circle cx="553.3" cy="125.4" r="2"/>
<circle cx="556.6" cy="100.4" r="2"/>
<circle cx="561.1" cy="83.8" r="2"/>
<circle cx="573.6" cy="67.2" r="2"/>
<circle cx="547.8" cy="115.9" r="2"/>
<circle cx="560.6" cy="115.8" r="2"/>
<circle cx="550.9" cy="115.0" r="2"/>
<circle cx="566.1" cy="87.6" r="2"/>
<circle cx="574.2" cy="90.6" r="2"/>
<circle cx="548.1" cy="132.7" r="2"/>
<circle cx="550.4" cy="146.2" r="2"/>
<circle cx="545.3" cy="143.2" r="2"/>
<circle cx="565.9" cy="95.1" r="2"/>
<circle cx="548.8" cy="147.1" r="2"/>
<circle cx="568.2" cy="110.9" r="2"/>
<circle cx="574.6" cy="60.5" r="2"/>
<circle cx="579.9" cy="52.0" r="2"/>
<circle cx="568.3" cy="96.7" r="2"/>
<circle cx="582.2" cy="49.5" r="2"/>
<circle cx="580.1" cy="66.5" r="2"/>
<circle cx="563.6" cy="86.9" r="2"/>
<circle cx="566.4" cy="94.3" r="2"/>
<circle cx="546.9" cy="118.4" r="2"/>
<circle cx="591.8" cy="12.7" r="2"/>
<circle cx="562.3" cy="98.6" r="2"/>
<circle cx="567.9" cy="81.4" r="2"/>
<circle cx="545.9" cy="142.4" r="2"/>
<circle cx="555.6" cy="115.0" r="2"/>
<circle cx="551.9" cy="99.6" r="2"/>
<circle cx="569.2" cy="91.3" r="2"/>
<circle cx="547.0" cy="116.7" r="2"/>
<circle cx="547.6" cy="131.8" r="2"/>
<circle cx="562.6" cy="89.4" r="2"/>
<circle cx="586.7" cy="45.3" r="2"/>
<circle cx="569.0" cy="95.7" r="2"/>
<circle cx="586.0" cy="49.9" r="2"/>
<circle cx="554.2" cy="110.9" r="2"/>
<circle cx="576.2" cy="69.6" r="2"/>
<circle cx="568.4" cy="96.5" r="2"/>
<circle cx="565.3" cy="116.5" r="2"/>
<circle cx="547.7" cy="116.8" r="2"/>
<circle cx="565.2" cy="101.5" r="2"/>
<circle cx="557.6" cy="90.3" r="2"/>
<circle cx="558.0" cy="112.0" r="2"/>
<circle cx="567.0" cy="96.4" r="2"/>
<circle cx="558.2" cy="130.1" r="2"/>
<circle cx="550.5" cy="106.5" r="2"/>
<circle cx="580.7" cy="73.2" r="2"/>
<circle cx="552.9" cy="136.8" r="2"/>
<circle cx="571.9" cy="68.9" r="2"/>
<circle cx="580.5" cy="66.8" r="2"/>
<circle cx="566.4" cy="92.4" r="2"/>
<circle cx="564.0" cy="92.7" r="2"/>
<circle cx="552.6" cy="98.1" r="2"/>
<circle cx="556.8" cy="102.3" r="2"/>
<circle cx="576.1" cy="91.7" r="2"/>
<circle cx="569.8" cy="69.3" r="2"/>
<circle cx="571.4" cy="90.3" r="2"/>
<circle cx="562.3" cy="116.8" r="2"/>
<circle cx="558.3" cy="90.1" r="2"/>
<circle cx="560.1" cy="111.7" r="2"/>
<circle cx="576.4" cy="56.4" r="2"/>
<circle cx="567.9" cy="101.1" r="2"/>
<circle cx="574.0" cy="71.0" r="2"/>
<circle cx="569.0" cy="80.9" r="2"/>
<circle cx="556.8" cy="89.7" r="2"/>
<circle cx="558.1" cy="106.9" r="2"/>
<circle cx="588.2" cy="42.9" r="2"/>
<circle cx="580.4" cy="53.5" r="2"/>
<circle cx="544.7" cy="145.0" r="2"/>
<circle cx="558.3" cy="136.8" r="2"/>
<circle cx="570.4" cy="64.2" r="2"/>
<circle cx="559.1" cy="123.2" r="2"/>
<circle cx="565.5" cy="95.1" r="2"/>
<circle cx="560.8" cy="113.0" r="2"/>
<circle cx="553.4" cy="138.0" r="2"/>
<circle cx="549.8" cy="86.7" r="2"/>
<circle cx="576.3" cy="74.5" r="2"/>
<circle cx="576.2" cy="58.1" r="2"/>
<circle cx="573.1" cy="85.3" r="2"/>
<circle cx="574.1" cy="78.5" r="2"/>
<circle cx="552.5" cy="120.5" r="2"/>
<circle cx="559.7" cy="82.8" r="2"/>
<circle cx="559.6" cy="97.4" r="2"/>
<circle cx="562.5" cy="107.5" r="2"/>
<circle cx="554.9" cy="130.2" r="2"/>
<circle cx="550.8" cy="92.2" r="2"/>
<circle cx="573.4" cy="84.6" r="2"/>
<circle cx="550.4" cy="113.3" r="2"/>
<circle cx="567.2" cy="116.6" r="2"/>
<circle cx="565.8" cy="78.0" r="2"/>
<circle cx="556.3" cy="105.0" r="2"/>
<circle cx="562.5" cy="109.3" r="2"/>
<circle cx="555.8" cy="132.8" r="2"/>
<circle cx="585.3" cy="57.0" r="2"/>
<circle cx="581.1" cy="62.0" r="2"/>
<circle cx="560.6" cy="86.5" r="2"/>
<circle cx="558.9" cy="106.7" r="2"/>
<circle cx="568.8" cy="71.7" r="2"/>
<circle cx="566.2" cy="101.6" r="2"/>
<circle cx="546.0" cy="126.5" r="2"/>
<circle cx="542.8" cy="117.6" r="2"/>
<circle cx="570.3" cy="99.6" r="2"/>
<circle cx="555.3" cy="111.1" r="2"/>
<circle cx="566.9" cy="91.4" r="2"/>
<circle cx="577.5" cy="45.9" r="2"/>
<circle cx="571.8" cy="95.2" r="2"/>
</g>
<g stroke="#000" stroke-width="1.25" fill="none" stroke-linecap="square">
<path d="M64.80 557.70H166.35"/>
<path d="M64.80 557.70v6.0"/>
<path d="M98.65 557.70v6.0"/>
<path d="M132.50 557.70v6.0"/>
<path d="M166.35 557.70v6.0"/>
</g>
<text x="64.80" y="579.10" text-anchor="middle" class="tk">1.0</text>
<text x="98.65" y="579.10" text-anchor="middle" class="tk">1.5</text>
<text x="132.50" y="579.10" text-anchor="middle" class="tk">2.0</text>
<text x="166.35" y="579.10" text-anchor="middle" class="tk">2.5</text>
<g stroke="#000" stroke-width="1.25" fill="none" stroke-linecap="square">
<path d="M48.30 549.20V333.41"/>
<path d="M48.30 549.20h-6.0"/>
<path d="M48.30 477.27h-6.0"/>
<path d="M48.30 405.34h-6.0"/>
<path d="M48.30 333.41h-6.0"/>
</g>
<text transform="translate(34.70 549.20) rotate(-90)" text-anchor="middle" class="tk">0.0</text>
<text transform="translate(34.70 477.27) rotate(-90)" text-anchor="middle" class="tk">0.5</text>
<text transform="translate(34.70 405.34) rotate(-90)" text-anchor="middle" class="tk">1.0</text>
<text transform="translate(34.70 333.41) rotate(-90)" text-anchor="middle" class="tk">1.5</text>
<text x="122.60" y="602.30" text-anchor="middle" class="tt">Sampled Values</text>
<text transform="translate(10.70 431.80) rotate(-90)" text-anchor="middle" class="tt">Density</text>
<path d="M48.3 549.3H196.9" stroke="#c8c8c8" stroke-width="0.8" fill="none"/>
<path d="M53.30 549.00C54.67 548.83 58.75 548.28 61.50 548.00C64.25 547.72 67.60 547.58 69.80 547.30C72.00 547.02 73.20 546.78 74.70 546.30C76.20 545.82 77.65 544.87 78.80 544.40C79.95 543.93 80.63 543.48 81.60 543.50C82.57 543.52 83.60 544.35 84.60 544.50C85.60 544.65 86.50 544.97 87.60 544.40C88.70 543.83 90.05 541.93 91.20 541.10C92.35 540.27 93.40 539.52 94.50 539.40C95.60 539.28 96.70 539.85 97.80 540.40C98.90 540.95 100.05 542.18 101.10 542.70C102.15 543.22 103.27 543.72 104.10 543.50C104.93 543.28 105.37 542.77 106.10 541.40C106.83 540.03 107.55 537.70 108.50 535.30C109.45 532.90 110.70 529.88 111.80 527.00C112.90 524.12 114.18 521.43 115.10 518.00C116.02 514.57 116.67 510.53 117.30 506.40C117.93 502.27 118.48 497.60 118.90 493.20C119.32 488.80 119.43 486.78 119.80 480.00C120.17 473.22 120.60 461.20 121.10 452.50C121.60 443.80 122.25 436.05 122.80 427.80C123.35 419.55 124.02 408.95 124.40 403.00C124.78 397.05 124.77 395.83 125.10 392.10C125.43 388.37 125.90 383.62 126.40 380.60C126.90 377.58 127.42 375.93 128.10 374.00C128.78 372.07 129.68 371.20 130.50 369.00C131.32 366.80 132.25 364.10 133.00 360.80C133.75 357.50 134.32 353.33 135.00 349.20C135.68 345.07 136.47 339.43 137.10 336.00C137.73 332.57 138.17 330.67 138.80 328.60C139.43 326.53 140.00 324.98 140.90 323.60C141.80 322.22 143.18 321.25 144.20 320.30C145.22 319.35 146.17 318.78 147.00 317.90C147.83 317.02 148.57 315.62 149.20 315.00C149.83 314.38 150.32 314.12 150.80 314.20C151.28 314.28 151.63 314.33 152.10 315.50C152.57 316.67 153.12 318.62 153.60 321.20C154.08 323.78 154.53 326.88 155.00 331.00C155.47 335.12 155.93 340.67 156.40 345.90C156.87 351.13 157.35 357.17 157.80 362.40C158.25 367.63 158.70 372.35 159.10 377.30C159.50 382.25 159.87 387.82 160.20 392.10C160.53 396.38 160.68 397.05 161.10 403.00C161.52 408.95 162.02 419.55 162.70 427.80C163.38 436.05 164.32 444.25 165.20 452.50C166.08 460.75 167.13 470.52 168.00 477.30C168.87 484.08 169.53 488.08 170.40 493.20C171.27 498.32 172.18 503.05 173.20 508.00C174.22 512.95 175.40 518.22 176.50 522.90C177.60 527.58 178.75 532.67 179.80 536.10C180.85 539.53 181.88 541.72 182.80 543.50C183.72 545.28 184.47 546.03 185.30 546.80C186.13 547.57 186.70 547.80 187.80 548.10C188.90 548.40 191.22 548.52 191.90 548.60" fill="none" stroke="#000" stroke-width="1.5" stroke-linejoin="round" stroke-linecap="round"/>
<g stroke="#000" stroke-width="1.25" fill="none" stroke-linecap="square">
<path d="M269.90 557.70H404.79"/>
<path d="M269.90 557.70v6.0"/>
<path d="M289.17 557.70v6.0"/>
<path d="M308.44 557.70v6.0"/>
<path d="M327.71 557.70v6.0"/>
<path d="M346.98 557.70v6.0"/>
<path d="M366.25 557.70v6.0"/>
<path d="M385.52 557.70v6.0"/>
<path d="M404.79 557.70v6.0"/>
</g>
<text x="269.90" y="579.10" text-anchor="middle" class="tk">0.4</text>
<text x="308.44" y="579.10" text-anchor="middle" class="tk">0.8</text>
<text x="346.98" y="579.10" text-anchor="middle" class="tk">1.2</text>
<text x="385.52" y="579.10" text-anchor="middle" class="tk">1.6</text>
<g stroke="#000" stroke-width="1.25" fill="none" stroke-linecap="square">
<path d="M256.15 549.10V330.62"/>
<path d="M256.15 549.10h-6.0"/>
<path d="M256.15 494.48h-6.0"/>
<path d="M256.15 439.86h-6.0"/>
<path d="M256.15 385.24h-6.0"/>
<path d="M256.15 330.62h-6.0"/>
</g>
<text transform="translate(242.55 549.10) rotate(-90)" text-anchor="middle" class="tk">0.0</text>
<text transform="translate(242.55 494.48) rotate(-90)" text-anchor="middle" class="tk">0.5</text>
<text transform="translate(242.55 439.86) rotate(-90)" text-anchor="middle" class="tk">1.0</text>
<text transform="translate(242.55 385.24) rotate(-90)" text-anchor="middle" class="tk">1.5</text>
<text transform="translate(242.55 330.62) rotate(-90)" text-anchor="middle" class="tk">2.0</text>
<text x="330.45" y="602.30" text-anchor="middle" class="tt">Sampled Values</text>
<path d="M256.1 549.3H404.8" stroke="#c8c8c8" stroke-width="0.8" fill="none"/>
<path d="M261.40 548.60C262.35 548.50 265.60 548.43 267.10 548.00C268.60 547.57 269.30 547.02 270.40 546.00C271.50 544.98 272.60 543.33 273.70 541.90C274.80 540.47 276.03 538.37 277.00 537.40C277.97 536.43 278.67 536.12 279.50 536.10C280.33 536.08 280.90 536.53 282.00 537.30C283.10 538.07 284.58 539.52 286.10 540.70C287.62 541.88 289.72 543.47 291.10 544.40C292.48 545.33 293.45 545.95 294.40 546.30C295.35 546.65 295.98 546.73 296.80 546.50C297.62 546.27 298.33 546.08 299.30 544.90C300.27 543.72 301.50 541.68 302.60 539.40C303.70 537.12 304.80 534.50 305.90 531.20C307.00 527.90 308.10 524.00 309.20 519.60C310.30 515.20 311.53 509.75 312.50 504.80C313.47 499.85 314.40 494.03 315.00 489.90C315.60 485.77 315.52 486.23 316.10 480.00C316.68 473.77 317.60 461.20 318.50 452.50C319.40 443.80 320.60 436.05 321.50 427.80C322.40 419.55 323.22 410.05 323.90 403.00C324.58 395.95 325.05 391.17 325.60 385.50C326.15 379.83 326.65 374.50 327.20 369.00C327.75 363.50 328.35 358.00 328.90 352.50C329.45 347.00 329.95 340.95 330.50 336.00C331.05 331.05 331.65 326.10 332.20 322.80C332.75 319.50 333.17 317.57 333.80 316.20C334.43 314.83 335.25 314.60 336.00 314.60C336.75 314.60 337.48 315.25 338.30 316.20C339.12 317.15 340.08 318.65 340.90 320.30C341.72 321.95 342.45 324.53 343.20 326.10C343.95 327.67 344.62 328.88 345.40 329.70C346.18 330.52 347.00 330.85 347.90 331.00C348.80 331.15 349.98 330.32 350.80 330.60C351.62 330.88 352.13 331.25 352.80 332.70C353.47 334.15 354.17 336.27 354.80 339.30C355.43 342.33 356.05 346.22 356.60 350.90C357.15 355.58 357.63 361.90 358.10 367.40C358.57 372.90 358.97 377.97 359.40 383.90C359.83 389.83 360.15 395.68 360.70 403.00C361.25 410.32 361.95 419.55 362.70 427.80C363.45 436.05 364.32 444.25 365.20 452.50C366.08 460.75 367.27 470.52 368.00 477.30C368.73 484.08 369.00 488.35 369.60 493.20C370.20 498.05 370.83 502.27 371.60 506.40C372.37 510.53 373.15 514.42 374.20 518.00C375.25 521.58 376.68 524.75 377.90 527.90C379.12 531.05 380.27 534.38 381.50 536.90C382.73 539.42 384.03 541.40 385.30 543.00C386.57 544.60 387.73 545.63 389.10 546.50C390.47 547.37 391.80 547.82 393.50 548.20C395.20 548.58 398.33 548.70 399.30 548.80" fill="none" stroke="#000" stroke-width="1.5" stroke-linejoin="round" stroke-linecap="round"/>
</svg>
</body></html>
